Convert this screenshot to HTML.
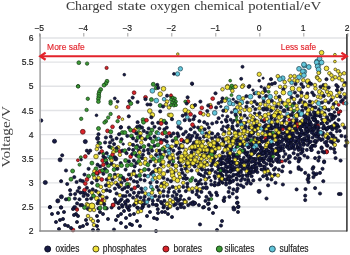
<!DOCTYPE html><html><head><meta charset="utf-8"><style>html,body{margin:0;padding:0;background:#fff}svg{display:block}.n{fill:#181b44;stroke:#090b20;stroke-width:0.7}.y{fill:#f0e23a;stroke:#3d3812;stroke-width:0.7}.c{fill:#62c6da;stroke:#234552;stroke-width:0.7}.g{fill:#3c9a35;stroke:#123a12;stroke-width:0.7}.r{fill:#d9232b;stroke:#4a0b0b;stroke-width:0.7}</style></head><body><svg width="350" height="255" viewBox="0 0 350 255">
<rect width="350" height="255" fill="#fff"/>
<line x1="40.1" y1="38.00" x2="347.1" y2="38.00" stroke="#e2e3e6" stroke-width="1.4"/>
<line x1="40.1" y1="62.15" x2="347.1" y2="62.15" stroke="#e2e3e6" stroke-width="1.4"/>
<line x1="40.1" y1="86.30" x2="347.1" y2="86.30" stroke="#e2e3e6" stroke-width="1.4"/>
<line x1="40.1" y1="110.45" x2="347.1" y2="110.45" stroke="#e2e3e6" stroke-width="1.4"/>
<line x1="40.1" y1="134.60" x2="347.1" y2="134.60" stroke="#e2e3e6" stroke-width="1.4"/>
<line x1="40.1" y1="158.75" x2="347.1" y2="158.75" stroke="#e2e3e6" stroke-width="1.4"/>
<line x1="40.1" y1="182.90" x2="347.1" y2="182.90" stroke="#e2e3e6" stroke-width="1.4"/>
<line x1="40.1" y1="207.05" x2="347.1" y2="207.05" stroke="#e2e3e6" stroke-width="1.4"/>
<circle class="n" cx="288.9" cy="126.5" r="1.29"/>
<circle class="n" cx="303.0" cy="124.2" r="1.29"/>
<circle class="n" cx="298.0" cy="133.0" r="1.29"/>
<circle class="n" cx="277.5" cy="137.2" r="1.29"/>
<circle class="n" cx="276.6" cy="135.0" r="1.29"/>
<circle class="n" cx="278.0" cy="124.7" r="1.29"/>
<circle class="n" cx="293.3" cy="146.8" r="1.29"/>
<circle class="n" cx="280.3" cy="128.7" r="1.29"/>
<circle class="n" cx="302.0" cy="150.4" r="1.29"/>
<circle class="n" cx="299.8" cy="133.9" r="1.29"/>
<circle class="n" cx="317.0" cy="123.4" r="1.29"/>
<circle class="n" cx="311.9" cy="130.7" r="1.29"/>
<circle class="n" cx="281.2" cy="125.5" r="1.29"/>
<circle class="n" cx="288.3" cy="146.5" r="1.29"/>
<circle class="n" cx="282.8" cy="139.4" r="1.29"/>
<circle class="n" cx="302.5" cy="133.2" r="1.29"/>
<circle class="n" cx="298.6" cy="123.9" r="1.29"/>
<circle class="n" cx="277.6" cy="128.2" r="1.29"/>
<circle class="n" cx="304.3" cy="134.8" r="1.29"/>
<circle class="n" cx="288.5" cy="139.6" r="1.29"/>
<circle class="n" cx="294.5" cy="131.0" r="1.29"/>
<circle class="n" cx="309.2" cy="143.0" r="1.29"/>
<circle class="n" cx="285.5" cy="139.2" r="1.29"/>
<circle class="n" cx="297.6" cy="148.3" r="1.29"/>
<circle class="n" cx="306.4" cy="130.6" r="1.29"/>
<circle class="n" cx="317.1" cy="125.5" r="1.29"/>
<circle class="n" cx="293.0" cy="144.7" r="1.29"/>
<circle class="n" cx="281.5" cy="136.7" r="1.29"/>
<circle class="n" cx="276.7" cy="142.0" r="1.29"/>
<circle class="n" cx="307.9" cy="139.2" r="1.29"/>
<circle class="n" cx="312.6" cy="131.4" r="1.29"/>
<circle class="n" cx="304.9" cy="139.8" r="1.29"/>
<circle class="n" cx="299.9" cy="135.7" r="1.29"/>
<circle class="n" cx="311.1" cy="150.3" r="1.29"/>
<circle class="n" cx="295.4" cy="141.9" r="1.29"/>
<circle class="n" cx="277.6" cy="143.0" r="1.29"/>
<circle class="n" cx="302.8" cy="151.8" r="1.29"/>
<circle class="n" cx="310.3" cy="130.5" r="1.29"/>
<circle class="n" cx="291.6" cy="142.1" r="1.29"/>
<circle class="n" cx="276.0" cy="135.9" r="1.29"/>
<circle class="n" cx="282.2" cy="125.5" r="1.29"/>
<circle class="n" cx="277.5" cy="145.0" r="1.29"/>
<circle class="n" cx="280.6" cy="129.4" r="1.29"/>
<circle class="n" cx="291.8" cy="148.1" r="1.29"/>
<circle class="n" cx="278.5" cy="135.5" r="1.29"/>
<circle class="n" cx="298.6" cy="148.5" r="1.29"/>
<circle class="n" cx="310.2" cy="147.9" r="1.29"/>
<circle class="n" cx="287.0" cy="134.5" r="1.29"/>
<circle class="n" cx="290.4" cy="148.5" r="1.29"/>
<circle class="n" cx="316.2" cy="126.5" r="1.29"/>
<circle class="n" cx="282.6" cy="129.0" r="1.29"/>
<circle class="n" cx="285.0" cy="136.5" r="1.29"/>
<circle class="n" cx="300.3" cy="129.9" r="1.29"/>
<circle class="n" cx="275.2" cy="134.6" r="1.29"/>
<circle class="n" cx="290.9" cy="139.0" r="1.29"/>
<circle class="n" cx="316.0" cy="142.7" r="1.29"/>
<circle class="n" cx="297.2" cy="140.5" r="1.29"/>
<circle class="n" cx="304.1" cy="123.6" r="1.29"/>
<circle class="n" cx="313.7" cy="145.4" r="1.29"/>
<circle class="n" cx="312.6" cy="145.9" r="1.29"/>
<circle class="n" cx="291.9" cy="134.0" r="1.29"/>
<circle class="n" cx="279.5" cy="141.0" r="1.29"/>
<circle class="n" cx="277.7" cy="124.0" r="1.29"/>
<circle class="n" cx="284.0" cy="126.9" r="1.29"/>
<circle class="n" cx="289.6" cy="123.6" r="1.29"/>
<circle class="n" cx="275.0" cy="126.5" r="1.29"/>
<circle class="n" cx="279.4" cy="132.9" r="1.29"/>
<circle class="n" cx="276.1" cy="148.2" r="1.29"/>
<circle class="n" cx="301.4" cy="126.5" r="1.29"/>
<circle class="n" cx="285.8" cy="132.4" r="1.29"/>
<circle class="n" cx="268.6" cy="131.9" r="1.29"/>
<circle class="n" cx="277.3" cy="159.8" r="1.29"/>
<circle class="n" cx="270.4" cy="143.5" r="1.29"/>
<circle class="n" cx="263.5" cy="131.3" r="1.29"/>
<circle class="n" cx="268.2" cy="136.5" r="1.29"/>
<circle class="n" cx="276.9" cy="133.2" r="1.29"/>
<circle class="n" cx="262.4" cy="158.4" r="1.29"/>
<circle class="n" cx="271.5" cy="132.7" r="1.29"/>
<circle class="n" cx="271.8" cy="128.9" r="1.29"/>
<circle class="n" cx="271.5" cy="159.3" r="1.29"/>
<circle class="n" cx="277.5" cy="150.3" r="1.29"/>
<circle class="n" cx="266.7" cy="139.7" r="1.29"/>
<circle class="n" cx="265.0" cy="152.7" r="1.29"/>
<circle class="n" cx="271.6" cy="152.9" r="1.29"/>
<circle class="n" cx="267.9" cy="135.1" r="1.29"/>
<circle class="n" cx="276.6" cy="159.5" r="1.29"/>
<circle class="n" cx="277.3" cy="153.8" r="1.29"/>
<circle class="n" cx="276.7" cy="151.7" r="1.29"/>
<circle class="n" cx="266.1" cy="144.6" r="1.29"/>
<circle class="n" cx="268.4" cy="128.9" r="1.29"/>
<circle class="n" cx="262.5" cy="136.9" r="1.29"/>
<circle class="n" cx="266.7" cy="150.2" r="1.29"/>
<circle class="n" cx="260.5" cy="141.2" r="1.29"/>
<circle class="n" cx="259.9" cy="164.5" r="1.29"/>
<circle class="n" cx="260.5" cy="137.7" r="1.29"/>
<circle class="n" cx="235.5" cy="131.8" r="1.29"/>
<circle class="n" cx="234.7" cy="130.8" r="1.29"/>
<circle class="n" cx="249.2" cy="160.7" r="1.29"/>
<circle class="n" cx="256.6" cy="142.6" r="1.29"/>
<circle class="n" cx="250.2" cy="156.4" r="1.29"/>
<circle class="n" cx="230.9" cy="150.4" r="1.29"/>
<circle class="n" cx="258.9" cy="155.6" r="1.29"/>
<circle class="n" cx="253.5" cy="142.6" r="1.29"/>
<circle class="n" cx="234.1" cy="155.9" r="1.29"/>
<circle class="n" cx="239.3" cy="156.4" r="1.29"/>
<circle class="n" cx="261.0" cy="139.0" r="1.29"/>
<circle class="n" cx="241.6" cy="162.7" r="1.29"/>
<circle class="n" cx="252.6" cy="129.3" r="1.29"/>
<circle class="n" cx="232.3" cy="128.5" r="1.29"/>
<circle class="n" cx="258.8" cy="156.7" r="1.29"/>
<circle class="n" cx="233.0" cy="157.5" r="1.29"/>
<circle class="n" cx="261.3" cy="150.3" r="1.29"/>
<circle class="n" cx="239.9" cy="145.6" r="1.29"/>
<circle class="n" cx="232.5" cy="122.6" r="1.29"/>
<circle class="n" cx="261.0" cy="149.9" r="1.29"/>
<circle class="n" cx="245.9" cy="162.1" r="1.29"/>
<circle class="n" cx="242.7" cy="159.5" r="1.29"/>
<circle class="n" cx="256.1" cy="131.1" r="1.29"/>
<circle class="n" cx="236.6" cy="134.6" r="1.29"/>
<circle class="n" cx="236.2" cy="147.2" r="1.29"/>
<circle class="n" cx="236.8" cy="140.0" r="1.29"/>
<circle class="n" cx="232.5" cy="161.1" r="1.29"/>
<circle class="n" cx="240.0" cy="141.7" r="1.29"/>
<circle class="n" cx="247.8" cy="160.9" r="1.29"/>
<circle class="n" cx="242.3" cy="161.5" r="1.29"/>
<circle class="n" cx="245.1" cy="144.9" r="1.29"/>
<circle class="n" cx="245.8" cy="122.8" r="1.29"/>
<circle class="n" cx="243.0" cy="129.9" r="1.29"/>
<circle class="n" cx="228.1" cy="156.4" r="1.29"/>
<circle class="n" cx="233.9" cy="142.4" r="1.29"/>
<circle class="n" cx="252.7" cy="145.9" r="1.29"/>
<circle class="n" cx="239.1" cy="144.3" r="1.29"/>
<circle class="n" cx="246.9" cy="155.7" r="1.29"/>
<circle class="n" cx="231.6" cy="146.1" r="1.29"/>
<circle class="n" cx="236.4" cy="133.9" r="1.29"/>
<circle class="n" cx="254.3" cy="143.8" r="1.29"/>
<circle class="n" cx="247.1" cy="154.7" r="1.29"/>
<circle class="n" cx="259.0" cy="141.1" r="1.29"/>
<circle class="n" cx="248.8" cy="143.7" r="1.29"/>
<circle class="n" cx="245.4" cy="151.8" r="1.29"/>
<circle class="n" cx="243.4" cy="144.9" r="1.29"/>
<circle class="n" cx="244.3" cy="162.5" r="1.29"/>
<circle class="n" cx="218.0" cy="161.7" r="1.29"/>
<circle class="n" cx="227.7" cy="145.0" r="1.29"/>
<circle class="n" cx="212.4" cy="163.5" r="1.29"/>
<circle class="n" cx="223.6" cy="141.7" r="1.29"/>
<circle class="n" cx="194.9" cy="149.9" r="1.29"/>
<circle class="n" cx="192.9" cy="144.5" r="1.29"/>
<circle class="n" cx="192.9" cy="156.1" r="1.29"/>
<circle class="n" cx="221.4" cy="162.2" r="1.29"/>
<circle class="n" cx="196.2" cy="157.3" r="1.29"/>
<circle class="n" cx="216.4" cy="141.9" r="1.29"/>
<circle class="n" cx="225.3" cy="164.1" r="1.29"/>
<circle class="n" cx="198.8" cy="163.7" r="1.29"/>
<circle class="n" cx="205.9" cy="151.2" r="1.29"/>
<circle class="n" cx="229.6" cy="160.5" r="1.29"/>
<circle class="n" cx="196.5" cy="149.7" r="1.29"/>
<circle class="n" cx="210.6" cy="147.2" r="1.29"/>
<circle class="n" cx="197.8" cy="146.6" r="1.29"/>
<circle class="n" cx="218.9" cy="138.5" r="1.29"/>
<circle class="n" cx="212.2" cy="149.9" r="1.29"/>
<circle class="n" cx="190.7" cy="147.0" r="1.29"/>
<circle class="n" cx="215.0" cy="151.8" r="1.29"/>
<circle class="n" cx="192.6" cy="164.6" r="1.29"/>
<circle class="n" cx="221.5" cy="164.2" r="1.29"/>
<circle class="n" cx="194.2" cy="145.2" r="1.29"/>
<circle class="n" cx="191.6" cy="159.0" r="1.29"/>
<circle class="n" cx="200.8" cy="141.5" r="1.29"/>
<circle class="n" cx="206.9" cy="162.6" r="1.29"/>
<circle class="n" cx="222.8" cy="145.0" r="1.29"/>
<circle class="n" cx="196.0" cy="162.8" r="1.29"/>
<circle class="n" cx="212.8" cy="156.9" r="1.29"/>
<circle class="n" cx="221.9" cy="156.4" r="1.29"/>
<circle class="n" cx="248.3" cy="165.6" r="1.29"/>
<circle class="n" cx="221.2" cy="178.5" r="1.29"/>
<circle class="n" cx="245.9" cy="175.0" r="1.29"/>
<circle class="n" cx="221.7" cy="176.4" r="1.29"/>
<circle class="n" cx="220.9" cy="176.6" r="1.29"/>
<circle class="n" cx="238.0" cy="163.5" r="1.29"/>
<circle class="n" cx="242.3" cy="178.2" r="1.29"/>
<circle class="n" cx="229.8" cy="158.2" r="1.29"/>
<circle class="n" cx="241.2" cy="161.0" r="1.29"/>
<circle class="n" cx="222.8" cy="159.0" r="1.29"/>
<circle class="n" cx="220.2" cy="160.0" r="1.29"/>
<circle class="n" cx="231.7" cy="162.6" r="1.29"/>
<circle class="n" cx="251.4" cy="162.2" r="1.29"/>
<circle class="n" cx="240.0" cy="159.4" r="1.29"/>
<circle class="n" cx="233.3" cy="155.5" r="1.29"/>
<circle class="n" cx="229.0" cy="155.4" r="1.29"/>
<circle class="n" cx="250.3" cy="168.8" r="1.29"/>
<circle class="n" cx="226.3" cy="166.9" r="1.29"/>
<circle class="n" cx="259.1" cy="157.7" r="1.29"/>
<circle class="n" cx="254.0" cy="165.8" r="1.29"/>
<circle class="n" cx="239.8" cy="175.9" r="1.29"/>
<circle class="n" cx="235.3" cy="167.7" r="1.29"/>
<circle class="n" cx="248.3" cy="179.6" r="1.29"/>
<circle class="n" cx="233.1" cy="175.8" r="1.29"/>
<circle class="n" cx="249.1" cy="170.9" r="1.29"/>
<circle class="n" cx="235.8" cy="163.7" r="1.29"/>
<circle class="n" cx="220.4" cy="158.2" r="1.29"/>
<circle class="n" cx="221.1" cy="173.5" r="1.29"/>
<circle class="n" cx="229.2" cy="159.1" r="1.29"/>
<circle class="n" cx="185.9" cy="178.7" r="1.29"/>
<circle class="n" cx="240.9" cy="170.8" r="1.29"/>
<circle class="n" cx="199.7" cy="151.1" r="1.29"/>
<circle class="n" cx="200.5" cy="161.1" r="1.29"/>
<circle class="n" cx="191.0" cy="160.5" r="1.29"/>
<circle class="n" cx="198.4" cy="184.2" r="1.29"/>
<circle class="n" cx="248.1" cy="165.2" r="1.29"/>
<circle class="n" cx="197.1" cy="184.4" r="1.29"/>
<circle class="n" cx="201.7" cy="156.4" r="1.29"/>
<circle class="n" cx="180.1" cy="157.6" r="1.29"/>
<circle class="n" cx="213.2" cy="163.1" r="1.29"/>
<circle class="n" cx="194.1" cy="163.2" r="1.29"/>
<circle class="n" cx="180.3" cy="152.2" r="1.29"/>
<circle class="n" cx="186.3" cy="158.4" r="1.29"/>
<circle class="n" cx="182.9" cy="141.0" r="1.29"/>
<circle class="n" cx="201.3" cy="150.7" r="1.29"/>
<circle class="n" cx="221.0" cy="164.3" r="1.29"/>
<circle class="n" cx="232.5" cy="170.2" r="1.29"/>
<circle class="n" cx="230.1" cy="180.4" r="1.29"/>
<circle class="n" cx="207.3" cy="155.0" r="1.29"/>
<circle class="n" cx="248.9" cy="146.9" r="1.29"/>
<circle class="n" cx="230.7" cy="169.6" r="1.29"/>
<circle class="n" cx="183.1" cy="178.4" r="1.29"/>
<circle class="n" cx="242.4" cy="168.9" r="1.29"/>
<circle class="n" cx="231.4" cy="177.4" r="1.29"/>
<circle class="n" cx="189.8" cy="164.1" r="1.29"/>
<circle class="n" cx="215.3" cy="178.4" r="1.29"/>
<circle class="n" cx="236.3" cy="178.0" r="1.29"/>
<circle class="n" cx="220.9" cy="181.1" r="1.29"/>
<circle class="n" cx="227.8" cy="171.9" r="1.29"/>
<circle class="n" cx="196.1" cy="141.4" r="1.29"/>
<circle class="n" cx="189.3" cy="156.6" r="1.29"/>
<circle class="n" cx="187.3" cy="178.4" r="1.29"/>
<circle class="n" cx="219.1" cy="168.9" r="1.29"/>
<circle class="n" cx="223.8" cy="171.3" r="1.29"/>
<circle class="n" cx="308.7" cy="105.1" r="1.29"/>
<circle class="n" cx="316.7" cy="132.7" r="1.29"/>
<circle class="n" cx="309.1" cy="124.8" r="1.29"/>
<circle class="n" cx="313.1" cy="107.4" r="1.29"/>
<circle class="n" cx="315.2" cy="114.3" r="1.29"/>
<circle class="n" cx="297.9" cy="114.8" r="1.29"/>
<circle class="n" cx="315.0" cy="112.6" r="1.29"/>
<circle class="n" cx="315.2" cy="141.1" r="1.29"/>
<circle class="n" cx="308.8" cy="119.2" r="1.29"/>
<circle class="n" cx="308.5" cy="130.3" r="1.29"/>
<circle class="n" cx="315.9" cy="127.8" r="1.29"/>
<circle class="n" cx="312.7" cy="107.9" r="1.29"/>
<circle class="n" cx="299.8" cy="114.4" r="1.29"/>
<circle class="n" cx="315.3" cy="116.3" r="1.29"/>
<circle class="n" cx="310.8" cy="105.5" r="1.29"/>
<circle class="n" cx="297.6" cy="114.9" r="1.29"/>
<circle class="n" cx="313.5" cy="130.6" r="1.29"/>
<circle class="n" cx="313.6" cy="115.8" r="1.29"/>
<circle class="n" cx="309.4" cy="122.2" r="1.29"/>
<circle class="n" cx="308.1" cy="109.4" r="1.29"/>
<circle class="n" cx="319.2" cy="112.4" r="1.29"/>
<circle class="n" cx="321.4" cy="139.6" r="1.29"/>
<circle class="n" cx="296.5" cy="122.0" r="1.29"/>
<circle class="n" cx="317.3" cy="140.8" r="1.29"/>
<circle class="n" cx="275.2" cy="115.4" r="1.29"/>
<circle class="n" cx="264.4" cy="128.9" r="1.29"/>
<circle class="n" cx="264.5" cy="121.6" r="1.29"/>
<circle class="n" cx="261.4" cy="120.5" r="1.29"/>
<circle class="n" cx="297.9" cy="112.7" r="1.29"/>
<circle class="n" cx="291.9" cy="120.2" r="1.29"/>
<circle class="n" cx="294.9" cy="124.1" r="1.29"/>
<circle class="n" cx="265.4" cy="128.0" r="1.29"/>
<circle class="n" cx="276.9" cy="110.5" r="1.29"/>
<circle class="n" cx="255.2" cy="119.8" r="1.29"/>
<circle class="n" cx="275.3" cy="116.0" r="1.29"/>
<circle class="n" cx="261.3" cy="116.9" r="1.29"/>
<circle class="n" cx="269.2" cy="126.8" r="1.29"/>
<circle class="n" cx="255.1" cy="125.0" r="1.29"/>
<circle class="n" cx="292.8" cy="112.4" r="1.29"/>
<circle class="n" cx="296.7" cy="124.3" r="1.29"/>
<circle class="n" cx="295.6" cy="115.8" r="1.29"/>
<circle class="n" cx="271.7" cy="117.9" r="1.29"/>
<circle class="n" cx="299.9" cy="121.8" r="1.29"/>
<circle class="n" cx="271.2" cy="118.6" r="1.29"/>
<circle class="n" cx="251.0" cy="151.1" r="1.29"/>
<circle class="n" cx="244.1" cy="168.4" r="1.29"/>
<circle class="n" cx="251.4" cy="170.6" r="1.29"/>
<circle class="n" cx="250.0" cy="155.8" r="1.29"/>
<circle class="n" cx="260.4" cy="154.2" r="1.29"/>
<circle class="n" cx="254.9" cy="171.0" r="1.29"/>
<circle class="n" cx="275.4" cy="167.9" r="1.29"/>
<circle class="n" cx="265.2" cy="170.1" r="1.29"/>
<circle class="n" cx="277.6" cy="162.1" r="1.29"/>
<circle class="n" cx="268.8" cy="151.1" r="1.29"/>
<circle class="n" cx="269.3" cy="159.9" r="1.29"/>
<circle class="n" cx="270.1" cy="164.2" r="1.29"/>
<circle class="n" cx="251.4" cy="151.1" r="1.29"/>
<circle class="n" cx="277.1" cy="152.8" r="1.29"/>
<circle class="n" cx="258.9" cy="157.6" r="1.29"/>
<circle class="n" cx="251.9" cy="166.3" r="1.29"/>
<circle class="n" cx="279.1" cy="155.7" r="1.29"/>
<circle class="n" cx="266.2" cy="156.6" r="1.29"/>
<circle class="n" cx="262.3" cy="158.7" r="1.29"/>
<circle class="n" cx="246.7" cy="153.6" r="1.29"/>
<circle class="n" cx="248.3" cy="169.9" r="1.29"/>
<circle class="n" cx="259.9" cy="154.8" r="1.29"/>
<circle class="n" cx="305.0" cy="139.8" r="1.29"/>
<circle class="n" cx="257.9" cy="149.0" r="1.29"/>
<circle class="n" cx="252.8" cy="133.7" r="1.29"/>
<circle class="n" cx="335.5" cy="116.3" r="1.29"/>
<circle class="n" cx="270.5" cy="157.6" r="1.29"/>
<circle class="n" cx="320.8" cy="123.7" r="1.29"/>
<circle class="n" cx="256.0" cy="142.6" r="1.29"/>
<circle class="n" cx="322.2" cy="107.8" r="1.29"/>
<circle class="n" cx="204.5" cy="164.2" r="1.29"/>
<circle class="n" cx="336.1" cy="126.4" r="1.29"/>
<circle class="n" cx="273.1" cy="161.9" r="1.29"/>
<circle class="n" cx="264.0" cy="151.2" r="1.29"/>
<circle class="n" cx="205.5" cy="170.1" r="1.29"/>
<circle class="n" cx="290.4" cy="130.9" r="1.29"/>
<circle class="n" cx="273.4" cy="153.8" r="1.29"/>
<circle class="n" cx="242.2" cy="143.8" r="1.29"/>
<circle class="n" cx="269.8" cy="161.3" r="1.29"/>
<circle class="n" cx="258.8" cy="127.1" r="1.29"/>
<circle class="n" cx="247.3" cy="140.5" r="1.29"/>
<circle class="n" cx="295.6" cy="122.2" r="1.29"/>
<circle class="n" cx="270.7" cy="122.8" r="1.29"/>
<circle class="n" cx="314.8" cy="124.9" r="1.29"/>
<circle class="n" cx="231.0" cy="168.4" r="1.29"/>
<circle class="n" cx="269.4" cy="121.4" r="1.29"/>
<circle class="n" cx="231.3" cy="140.2" r="1.29"/>
<circle class="n" cx="226.0" cy="182.7" r="1.29"/>
<circle class="n" cx="293.0" cy="137.0" r="1.29"/>
<circle class="n" cx="252.3" cy="133.2" r="1.29"/>
<circle class="n" cx="239.2" cy="134.8" r="1.29"/>
<circle class="n" cx="333.8" cy="116.1" r="1.29"/>
<circle class="n" cx="335.0" cy="123.0" r="1.29"/>
<circle class="n" cx="249.9" cy="173.4" r="1.29"/>
<circle class="n" cx="315.1" cy="141.5" r="1.29"/>
<circle class="n" cx="325.6" cy="108.5" r="1.29"/>
<circle class="n" cx="328.8" cy="127.1" r="1.29"/>
<circle class="n" cx="236.7" cy="164.8" r="1.29"/>
<circle class="n" cx="200.5" cy="168.0" r="1.29"/>
<circle class="n" cx="332.1" cy="108.0" r="1.29"/>
<circle class="n" cx="232.7" cy="145.0" r="1.29"/>
<circle class="n" cx="254.1" cy="126.6" r="1.29"/>
<circle class="n" cx="260.2" cy="146.5" r="1.29"/>
<circle class="n" cx="329.9" cy="121.0" r="1.29"/>
<circle class="n" cx="285.0" cy="132.9" r="1.29"/>
<circle class="n" cx="244.7" cy="135.7" r="1.29"/>
<circle class="n" cx="309.5" cy="112.5" r="1.29"/>
<circle class="n" cx="227.6" cy="167.7" r="1.29"/>
<circle class="n" cx="204.7" cy="151.3" r="1.29"/>
<circle class="n" cx="213.5" cy="146.9" r="1.29"/>
<circle class="n" cx="299.4" cy="142.7" r="1.29"/>
<circle class="n" cx="232.8" cy="140.2" r="1.29"/>
<circle class="n" cx="293.0" cy="115.9" r="1.29"/>
<circle class="n" cx="317.7" cy="130.1" r="1.29"/>
<circle class="n" cx="279.4" cy="136.6" r="1.29"/>
<circle class="n" cx="303.3" cy="122.3" r="1.29"/>
<circle class="n" cx="221.5" cy="178.5" r="1.29"/>
<circle class="n" cx="281.0" cy="132.8" r="1.29"/>
<circle class="n" cx="271.0" cy="125.0" r="1.29"/>
<circle class="n" cx="338.7" cy="114.4" r="1.29"/>
<circle class="n" cx="236.4" cy="169.8" r="1.29"/>
<circle class="n" cx="332.4" cy="114.7" r="1.29"/>
<circle class="n" cx="283.5" cy="156.8" r="1.29"/>
<circle class="n" cx="235.7" cy="155.2" r="1.29"/>
<circle class="n" cx="291.2" cy="122.7" r="1.29"/>
<circle class="n" cx="295.0" cy="121.2" r="1.29"/>
<circle class="n" cx="255.3" cy="151.1" r="1.29"/>
<circle class="n" cx="222.9" cy="163.0" r="1.29"/>
<circle class="n" cx="257.4" cy="129.2" r="1.29"/>
<circle class="n" cx="243.7" cy="152.5" r="1.29"/>
<circle class="n" cx="250.0" cy="140.1" r="1.29"/>
<circle class="n" cx="301.9" cy="122.7" r="1.29"/>
<circle class="n" cx="200.8" cy="179.9" r="1.29"/>
<circle class="n" cx="202.1" cy="151.2" r="1.29"/>
<circle class="n" cx="212.5" cy="157.0" r="1.29"/>
<circle class="n" cx="251.9" cy="147.4" r="1.29"/>
<circle class="n" cx="215.2" cy="146.2" r="1.29"/>
<circle class="n" cx="315.4" cy="119.1" r="1.29"/>
<circle class="n" cx="310.0" cy="124.2" r="1.29"/>
<circle class="n" cx="316.1" cy="121.0" r="1.29"/>
<circle class="n" cx="230.5" cy="138.8" r="1.29"/>
<circle class="n" cx="272.5" cy="137.5" r="1.29"/>
<circle class="n" cx="205.8" cy="152.1" r="1.29"/>
<circle class="n" cx="317.3" cy="115.7" r="1.29"/>
<circle class="n" cx="283.9" cy="151.1" r="1.29"/>
<circle class="n" cx="287.8" cy="131.1" r="1.29"/>
<circle class="n" cx="258.8" cy="153.8" r="1.29"/>
<circle class="n" cx="259.6" cy="160.0" r="1.29"/>
<circle class="n" cx="262.6" cy="141.9" r="1.29"/>
<circle class="n" cx="203.3" cy="156.7" r="1.29"/>
<circle class="n" cx="268.5" cy="125.3" r="1.29"/>
<circle class="n" cx="270.5" cy="137.0" r="1.29"/>
<circle class="n" cx="333.1" cy="117.2" r="1.29"/>
<circle class="n" cx="328.2" cy="119.5" r="1.29"/>
<circle class="n" cx="305.9" cy="119.0" r="1.29"/>
<circle class="n" cx="325.5" cy="128.5" r="1.29"/>
<circle class="n" cx="314.2" cy="117.8" r="1.29"/>
<circle class="n" cx="270.8" cy="132.2" r="1.29"/>
<circle class="n" cx="222.6" cy="182.8" r="1.29"/>
<circle class="n" cx="223.6" cy="170.4" r="1.29"/>
<circle class="n" cx="216.1" cy="149.5" r="1.29"/>
<circle class="n" cx="289.1" cy="135.5" r="1.29"/>
<circle class="n" cx="288.2" cy="138.3" r="1.29"/>
<circle class="n" cx="311.7" cy="127.7" r="1.29"/>
<circle class="n" cx="250.4" cy="168.7" r="1.29"/>
<circle class="n" cx="314.8" cy="126.8" r="1.29"/>
<circle class="n" cx="286.2" cy="141.4" r="1.29"/>
<circle class="n" cx="231.4" cy="153.9" r="1.29"/>
<circle class="n" cx="282.5" cy="122.7" r="1.29"/>
<circle class="n" cx="287.4" cy="144.9" r="1.29"/>
<circle class="n" cx="218.9" cy="182.8" r="1.29"/>
<circle class="n" cx="213.4" cy="158.3" r="1.29"/>
<circle class="n" cx="256.3" cy="127.7" r="1.29"/>
<circle class="n" cx="201.6" cy="158.9" r="1.29"/>
<circle class="n" cx="278.7" cy="134.7" r="1.29"/>
<circle class="n" cx="290.4" cy="142.4" r="1.29"/>
<circle class="n" cx="206.2" cy="149.6" r="1.29"/>
<circle class="n" cx="256.8" cy="125.5" r="1.29"/>
<circle class="n" cx="208.2" cy="169.9" r="1.29"/>
<circle class="n" cx="201.7" cy="151.2" r="1.29"/>
<circle class="n" cx="331.7" cy="117.7" r="1.29"/>
<circle class="n" cx="227.9" cy="155.9" r="1.29"/>
<circle class="n" cx="271.0" cy="158.6" r="1.29"/>
<circle class="n" cx="313.9" cy="120.3" r="1.29"/>
<circle class="n" cx="206.8" cy="178.9" r="1.29"/>
<circle class="n" cx="200.9" cy="175.2" r="1.29"/>
<circle class="n" cx="304.3" cy="144.2" r="1.29"/>
<circle class="n" cx="303.8" cy="143.1" r="1.29"/>
<circle class="n" cx="247.0" cy="167.5" r="1.29"/>
<circle class="n" cx="299.6" cy="127.8" r="1.29"/>
<circle class="n" cx="277.5" cy="141.8" r="1.29"/>
<circle class="n" cx="237.1" cy="158.6" r="1.29"/>
<circle class="n" cx="335.1" cy="123.8" r="1.29"/>
<circle class="n" cx="304.5" cy="132.8" r="1.29"/>
<circle class="n" cx="323.2" cy="132.9" r="1.29"/>
<circle class="n" cx="233.5" cy="180.4" r="1.29"/>
<circle class="n" cx="261.2" cy="165.4" r="1.29"/>
<circle class="n" cx="279.8" cy="131.2" r="1.29"/>
<circle class="n" cx="229.7" cy="157.1" r="1.29"/>
<circle class="n" cx="210.9" cy="180.7" r="1.29"/>
<circle class="n" cx="214.9" cy="182.2" r="1.29"/>
<circle class="n" cx="209.2" cy="154.4" r="1.29"/>
<circle class="n" cx="250.9" cy="173.0" r="1.29"/>
<circle class="n" cx="209.2" cy="177.2" r="1.29"/>
<circle class="n" cx="288.4" cy="129.6" r="1.29"/>
<circle class="n" cx="306.0" cy="122.8" r="1.29"/>
<circle class="n" cx="244.7" cy="140.7" r="1.29"/>
<circle class="n" cx="239.6" cy="164.7" r="1.29"/>
<circle class="n" cx="251.5" cy="132.3" r="1.29"/>
<circle class="n" cx="261.1" cy="169.4" r="1.29"/>
<circle class="n" cx="248.5" cy="163.8" r="1.29"/>
<circle class="n" cx="275.3" cy="123.8" r="1.29"/>
<circle class="n" cx="320.7" cy="113.5" r="1.29"/>
<circle class="n" cx="314.8" cy="120.0" r="1.29"/>
<circle class="n" cx="225.8" cy="146.6" r="1.29"/>
<circle class="n" cx="248.6" cy="174.2" r="1.29"/>
<circle class="n" cx="297.9" cy="146.9" r="1.29"/>
<circle class="n" cx="215.4" cy="158.2" r="1.29"/>
<circle class="n" cx="211.3" cy="170.6" r="1.29"/>
<circle class="n" cx="287.9" cy="135.2" r="1.29"/>
<circle class="n" cx="256.2" cy="138.4" r="1.29"/>
<circle class="n" cx="324.7" cy="113.1" r="1.29"/>
<circle class="n" cx="324.4" cy="108.1" r="1.29"/>
<circle class="n" cx="232.7" cy="143.8" r="1.29"/>
<circle class="n" cx="248.8" cy="132.8" r="1.29"/>
<circle class="n" cx="221.7" cy="175.1" r="1.29"/>
<circle class="n" cx="223.7" cy="142.0" r="1.29"/>
<circle class="n" cx="217.6" cy="143.9" r="1.29"/>
<circle class="n" cx="323.9" cy="125.5" r="1.29"/>
<circle class="n" cx="214.3" cy="184.9" r="1.29"/>
<circle class="n" cx="302.7" cy="141.7" r="1.29"/>
<circle class="n" cx="227.5" cy="158.3" r="1.29"/>
<circle class="n" cx="255.9" cy="170.9" r="1.29"/>
<circle class="n" cx="297.1" cy="147.0" r="1.29"/>
<circle class="n" cx="288.5" cy="144.0" r="1.29"/>
<circle class="n" cx="219.9" cy="155.5" r="1.29"/>
<circle class="n" cx="256.7" cy="166.8" r="1.29"/>
<circle class="n" cx="259.0" cy="124.7" r="1.29"/>
<circle class="n" cx="289.8" cy="143.2" r="1.29"/>
<circle class="n" cx="243.8" cy="157.5" r="1.29"/>
<circle class="n" cx="288.1" cy="126.5" r="1.29"/>
<circle class="n" cx="259.3" cy="143.3" r="1.29"/>
<circle class="n" cx="287.0" cy="139.6" r="1.29"/>
<circle class="n" cx="225.6" cy="159.7" r="1.29"/>
<circle class="n" cx="308.9" cy="137.9" r="1.29"/>
<circle class="n" cx="205.3" cy="150.6" r="1.29"/>
<circle class="n" cx="222.5" cy="170.1" r="1.29"/>
<circle class="n" cx="214.2" cy="153.1" r="1.29"/>
<circle class="n" cx="271.7" cy="158.4" r="1.29"/>
<circle class="n" cx="229.4" cy="162.1" r="1.29"/>
<circle class="n" cx="254.9" cy="168.5" r="1.29"/>
<circle class="n" cx="238.4" cy="138.8" r="1.29"/>
<circle class="n" cx="258.9" cy="163.3" r="1.29"/>
<circle class="n" cx="231.4" cy="166.8" r="1.29"/>
<circle class="n" cx="230.6" cy="171.7" r="1.29"/>
<circle class="n" cx="218.1" cy="169.7" r="1.29"/>
<circle class="n" cx="265.7" cy="152.1" r="1.29"/>
<circle class="n" cx="249.4" cy="158.4" r="1.29"/>
<circle class="n" cx="265.5" cy="130.1" r="1.29"/>
<circle class="n" cx="316.7" cy="135.1" r="1.29"/>
<circle class="n" cx="319.1" cy="127.9" r="1.29"/>
<circle class="n" cx="200.4" cy="165.2" r="1.29"/>
<circle class="n" cx="242.3" cy="145.3" r="1.29"/>
<circle class="n" cx="260.0" cy="158.3" r="1.29"/>
<circle class="n" cx="292.3" cy="135.7" r="1.29"/>
<circle class="n" cx="208.0" cy="173.9" r="1.29"/>
<circle class="n" cx="219.7" cy="174.2" r="1.29"/>
<circle class="n" cx="201.6" cy="184.0" r="1.29"/>
<circle class="n" cx="291.8" cy="126.5" r="1.29"/>
<circle class="n" cx="232.7" cy="169.7" r="1.29"/>
<circle class="n" cx="223.5" cy="179.1" r="1.29"/>
<circle class="n" cx="227.6" cy="162.8" r="1.29"/>
<circle class="n" cx="277.7" cy="127.7" r="1.29"/>
<circle class="n" cx="268.8" cy="146.9" r="1.29"/>
<circle class="n" cx="200.9" cy="174.9" r="1.29"/>
<circle class="n" cx="265.5" cy="152.1" r="1.29"/>
<circle class="n" cx="252.5" cy="140.3" r="1.29"/>
<circle class="n" cx="334.5" cy="112.2" r="1.29"/>
<circle class="n" cx="204.0" cy="156.0" r="1.29"/>
<circle class="n" cx="271.5" cy="145.7" r="1.29"/>
<circle class="n" cx="325.7" cy="108.8" r="1.29"/>
<circle class="n" cx="251.3" cy="144.9" r="1.29"/>
<circle class="n" cx="269.1" cy="151.6" r="1.29"/>
<circle class="n" cx="320.8" cy="132.0" r="1.29"/>
<circle class="n" cx="320.9" cy="140.3" r="1.29"/>
<circle class="n" cx="253.3" cy="154.0" r="1.29"/>
<circle class="n" cx="220.1" cy="164.2" r="1.29"/>
<circle class="n" cx="302.2" cy="125.9" r="1.29"/>
<circle class="n" cx="300.4" cy="144.3" r="1.29"/>
<circle class="n" cx="298.9" cy="137.7" r="1.29"/>
<circle class="n" cx="286.9" cy="129.4" r="1.29"/>
<circle class="n" cx="255.8" cy="142.3" r="1.29"/>
<circle class="n" cx="297.5" cy="125.9" r="1.29"/>
<circle class="n" cx="230.6" cy="182.5" r="1.29"/>
<circle class="n" cx="226.3" cy="175.2" r="1.29"/>
<circle class="n" cx="307.1" cy="128.2" r="1.29"/>
<circle class="n" cx="308.9" cy="124.1" r="1.29"/>
<circle class="n" cx="221.4" cy="168.1" r="1.29"/>
<circle class="n" cx="319.6" cy="116.0" r="1.29"/>
<circle class="n" cx="254.8" cy="164.7" r="1.29"/>
<circle class="n" cx="236.2" cy="174.6" r="1.29"/>
<circle class="n" cx="262.0" cy="153.1" r="1.29"/>
<circle class="n" cx="271.2" cy="160.8" r="1.29"/>
<circle class="n" cx="233.5" cy="169.8" r="1.29"/>
<circle class="n" cx="261.5" cy="158.4" r="1.29"/>
<circle class="n" cx="295.6" cy="141.3" r="1.29"/>
<circle class="n" cx="264.4" cy="169.0" r="1.29"/>
<circle class="n" cx="287.6" cy="131.9" r="1.29"/>
<circle class="n" cx="222.8" cy="183.0" r="1.29"/>
<circle class="n" cx="257.5" cy="155.4" r="1.29"/>
<circle class="n" cx="291.9" cy="133.1" r="1.29"/>
<circle class="n" cx="263.2" cy="161.4" r="1.29"/>
<circle class="n" cx="318.4" cy="131.2" r="1.29"/>
<circle class="n" cx="269.1" cy="154.0" r="1.29"/>
<circle class="n" cx="220.4" cy="172.5" r="1.29"/>
<circle class="n" cx="288.2" cy="130.5" r="1.29"/>
<circle class="n" cx="240.7" cy="166.3" r="1.29"/>
<circle class="n" cx="334.3" cy="127.6" r="1.29"/>
<circle class="n" cx="247.6" cy="166.3" r="1.29"/>
<circle class="n" cx="226.2" cy="170.5" r="1.29"/>
<circle class="n" cx="313.8" cy="127.5" r="1.29"/>
<circle class="n" cx="276.0" cy="154.2" r="1.29"/>
<circle class="n" cx="238.1" cy="162.6" r="1.29"/>
<circle class="n" cx="261.4" cy="152.3" r="1.29"/>
<circle class="n" cx="266.5" cy="148.8" r="1.29"/>
<circle class="n" cx="228.6" cy="157.5" r="1.29"/>
<circle class="n" cx="315.8" cy="121.7" r="1.29"/>
<circle class="n" cx="291.4" cy="135.9" r="1.29"/>
<circle class="n" cx="219.3" cy="184.3" r="1.29"/>
<circle class="n" cx="287.6" cy="129.6" r="1.29"/>
<circle class="n" cx="314.7" cy="141.9" r="1.29"/>
<circle class="n" cx="331.5" cy="114.8" r="1.29"/>
<circle class="n" cx="291.6" cy="139.8" r="1.29"/>
<circle class="n" cx="230.3" cy="181.9" r="1.29"/>
<circle class="n" cx="247.9" cy="152.3" r="1.29"/>
<circle class="n" cx="300.7" cy="139.5" r="1.29"/>
<circle class="n" cx="301.6" cy="132.4" r="1.29"/>
<circle class="n" cx="306.8" cy="124.6" r="1.29"/>
<circle class="n" cx="219.6" cy="179.6" r="1.29"/>
<circle class="n" cx="227.4" cy="179.7" r="1.29"/>
<circle class="n" cx="272.9" cy="135.5" r="1.29"/>
<circle class="n" cx="233.5" cy="175.3" r="1.29"/>
<circle class="n" cx="322.5" cy="135.1" r="1.29"/>
<circle class="n" cx="222.3" cy="177.1" r="1.29"/>
<circle class="n" cx="300.5" cy="125.8" r="1.29"/>
<circle class="n" cx="329.7" cy="114.3" r="1.29"/>
<circle class="n" cx="308.0" cy="132.0" r="1.29"/>
<circle class="n" cx="340.3" cy="111.2" r="1.29"/>
<circle class="n" cx="318.3" cy="135.6" r="1.29"/>
<circle class="n" cx="331.7" cy="126.4" r="1.29"/>
<circle class="n" cx="238.1" cy="167.8" r="1.29"/>
<circle class="n" cx="306.1" cy="124.8" r="1.29"/>
<circle class="n" cx="292.9" cy="147.2" r="1.29"/>
<circle class="n" cx="308.8" cy="140.6" r="1.29"/>
<circle class="n" cx="318.8" cy="135.1" r="1.29"/>
<circle class="n" cx="326.6" cy="130.0" r="1.29"/>
<circle class="n" cx="238.8" cy="172.4" r="1.29"/>
<circle class="n" cx="262.5" cy="154.6" r="1.29"/>
<circle class="n" cx="272.1" cy="148.7" r="1.29"/>
<circle class="n" cx="230.5" cy="163.6" r="1.29"/>
<circle class="n" cx="256.1" cy="163.3" r="1.29"/>
<circle class="n" cx="263.8" cy="166.3" r="1.29"/>
<circle class="n" cx="222.8" cy="175.5" r="1.29"/>
<circle class="n" cx="280.7" cy="149.8" r="1.29"/>
<circle class="n" cx="338.8" cy="126.8" r="1.29"/>
<circle class="n" cx="247.1" cy="171.3" r="1.29"/>
<circle class="n" cx="304.5" cy="124.6" r="1.29"/>
<circle class="n" cx="288.8" cy="149.2" r="1.29"/>
<circle class="n" cx="278.2" cy="147.6" r="1.29"/>
<circle class="n" cx="310.6" cy="122.3" r="1.29"/>
<circle class="n" cx="264.8" cy="141.5" r="1.29"/>
<circle class="n" cx="314.4" cy="135.4" r="1.29"/>
<circle class="n" cx="296.0" cy="137.3" r="1.29"/>
<circle class="n" cx="270.4" cy="147.9" r="1.29"/>
<circle class="n" cx="297.1" cy="129.9" r="1.29"/>
<circle class="n" cx="301.8" cy="130.5" r="1.29"/>
<circle class="n" cx="294.5" cy="128.8" r="1.29"/>
<circle class="n" cx="281.6" cy="142.5" r="1.29"/>
<circle class="n" cx="336.7" cy="131.6" r="1.29"/>
<circle class="n" cx="254.1" cy="158.6" r="1.29"/>
<circle class="n" cx="288.0" cy="158.8" r="1.29"/>
<circle class="n" cx="240.8" cy="163.3" r="1.29"/>
<circle class="n" cx="274.0" cy="151.1" r="1.29"/>
<circle class="n" cx="293.4" cy="145.2" r="1.29"/>
<circle class="n" cx="264.0" cy="153.9" r="1.29"/>
<circle class="n" cx="325.3" cy="127.9" r="1.29"/>
<circle class="n" cx="286.3" cy="146.9" r="1.29"/>
<circle class="n" cx="252.8" cy="167.9" r="1.29"/>
<circle class="n" cx="271.3" cy="165.2" r="1.29"/>
<circle class="n" cx="260.1" cy="160.7" r="1.29"/>
<circle class="n" cx="312.2" cy="145.6" r="1.29"/>
<circle class="n" cx="332.1" cy="119.5" r="1.29"/>
<circle class="n" cx="288.2" cy="141.3" r="1.29"/>
<circle class="n" cx="292.7" cy="138.5" r="1.29"/>
<circle class="n" cx="272.9" cy="144.3" r="1.29"/>
<circle class="n" cx="307.6" cy="132.0" r="1.29"/>
<circle class="n" cx="265.0" cy="151.7" r="1.29"/>
<circle class="n" cx="278.9" cy="143.3" r="1.29"/>
<circle class="n" cx="337.7" cy="125.3" r="1.29"/>
<circle class="n" cx="287.3" cy="147.3" r="1.29"/>
<circle class="n" cx="281.2" cy="148.8" r="1.29"/>
<circle class="n" cx="302.7" cy="139.2" r="1.29"/>
<circle class="n" cx="260.8" cy="154.6" r="1.29"/>
<circle class="n" cx="301.6" cy="149.4" r="1.29"/>
<circle class="n" cx="266.3" cy="152.1" r="1.29"/>
<circle class="n" cx="271.3" cy="156.8" r="1.29"/>
<circle class="n" cx="280.5" cy="147.9" r="1.29"/>
<circle class="n" cx="267.7" cy="169.1" r="1.29"/>
<circle class="n" cx="254.3" cy="161.8" r="1.29"/>
<circle class="n" cx="300.5" cy="124.7" r="1.29"/>
<circle class="n" cx="278.7" cy="151.5" r="1.29"/>
<circle class="n" cx="249.1" cy="158.5" r="1.29"/>
<circle class="n" cx="288.5" cy="140.8" r="1.29"/>
<circle class="n" cx="312.2" cy="118.0" r="1.29"/>
<circle class="n" cx="313.6" cy="134.2" r="1.29"/>
<circle class="n" cx="306.6" cy="136.5" r="1.29"/>
<circle class="n" cx="227.7" cy="177.8" r="1.29"/>
<circle class="n" cx="289.5" cy="136.2" r="1.29"/>
<circle class="n" cx="272.6" cy="138.9" r="1.29"/>
<circle class="n" cx="222.0" cy="176.8" r="1.29"/>
<circle class="n" cx="271.3" cy="156.5" r="1.29"/>
<circle class="n" cx="319.4" cy="132.8" r="1.29"/>
<circle class="n" cx="307.0" cy="126.6" r="1.29"/>
<circle class="n" cx="283.3" cy="138.9" r="1.29"/>
<circle class="n" cx="230.8" cy="171.9" r="1.29"/>
<circle class="n" cx="300.0" cy="135.6" r="1.29"/>
<circle class="n" cx="235.0" cy="162.9" r="1.29"/>
<circle class="n" cx="321.9" cy="119.6" r="1.29"/>
<circle class="n" cx="318.0" cy="121.9" r="1.29"/>
<circle class="n" cx="260.2" cy="164.2" r="1.29"/>
<circle class="n" cx="305.4" cy="129.6" r="1.29"/>
<circle class="n" cx="292.9" cy="125.9" r="1.29"/>
<circle class="n" cx="326.7" cy="119.2" r="1.29"/>
<circle class="n" cx="280.7" cy="150.7" r="1.29"/>
<circle class="n" cx="249.6" cy="167.9" r="1.29"/>
<circle class="n" cx="264.3" cy="159.3" r="1.29"/>
<circle class="n" cx="287.7" cy="133.3" r="1.29"/>
<circle class="n" cx="237.7" cy="173.8" r="1.29"/>
<circle class="n" cx="256.1" cy="159.7" r="1.29"/>
<circle class="n" cx="261.3" cy="147.5" r="1.29"/>
<circle class="n" cx="231.1" cy="163.8" r="1.29"/>
<circle class="n" cx="299.9" cy="136.4" r="1.29"/>
<circle class="g" cx="78.8" cy="62.7" r="1.90"/>
<circle class="g" cx="87.1" cy="63.6" r="1.71"/>
<circle class="r" cx="106.6" cy="67.9" r="1.62"/>
<circle class="g" cx="78.1" cy="86.2" r="1.71"/>
<circle class="n" cx="124.3" cy="74.7" r="1.37"/>
<circle class="y" cx="177.8" cy="54.1" r="1.29"/>
<circle class="c" cx="180.4" cy="68.8" r="2.20"/>
<circle class="c" cx="177.5" cy="73.9" r="2.20"/>
<circle class="n" cx="173.9" cy="73.9" r="1.37"/>
<circle class="n" cx="192.2" cy="84.1" r="1.37"/>
<circle class="n" cx="242.5" cy="66.8" r="1.52"/>
<circle class="n" cx="241.2" cy="78.8" r="1.52"/>
<circle class="y" cx="259.2" cy="74.3" r="2.15"/>
<circle class="n" cx="259.2" cy="80.7" r="1.37"/>
<circle class="n" cx="263.1" cy="78.2" r="1.14"/>
<circle class="g" cx="230.2" cy="80.7" r="1.42"/>
<circle class="y" cx="227.5" cy="86.0" r="1.72"/>
<circle class="g" cx="231.8" cy="86.0" r="1.90"/>
<circle class="y" cx="235.3" cy="86.4" r="1.72"/>
<circle class="y" cx="243.0" cy="85.6" r="1.89"/>
<circle class="n" cx="249.4" cy="86.0" r="1.52"/>
<circle class="n" cx="269.0" cy="84.5" r="1.52"/>
<circle class="y" cx="227.4" cy="87.3" r="2.32"/>
<circle class="y" cx="222.5" cy="89.3" r="1.81"/>
<circle class="g" cx="230.7" cy="88.5" r="1.52"/>
<circle class="g" cx="233.2" cy="87.6" r="1.52"/>
<circle class="y" cx="235.6" cy="86.8" r="1.81"/>
<circle class="y" cx="242.2" cy="86.8" r="1.81"/>
<circle class="n" cx="248.8" cy="86.8" r="1.60"/>
<circle class="y" cx="232.4" cy="90.9" r="1.81"/>
<circle class="n" cx="252.9" cy="90.1" r="1.22"/>
<circle class="n" cx="261.2" cy="86.8" r="1.22"/>
<circle class="g" cx="231.5" cy="95.1" r="1.52"/>
<circle class="n" cx="254.6" cy="93.4" r="1.60"/>
<circle class="c" cx="256.6" cy="92.9" r="1.85"/>
<circle class="n" cx="222.5" cy="98.4" r="1.60"/>
<circle class="g" cx="226.6" cy="98.4" r="1.52"/>
<circle class="c" cx="238.9" cy="97.5" r="2.38"/>
<circle class="y" cx="243.1" cy="98.4" r="1.81"/>
<circle class="n" cx="246.4" cy="96.2" r="1.60"/>
<circle class="c" cx="250.5" cy="96.7" r="2.38"/>
<circle class="n" cx="259.5" cy="96.7" r="1.60"/>
<circle class="y" cx="258.7" cy="93.4" r="1.81"/>
<circle class="n" cx="221.6" cy="101.6" r="1.60"/>
<circle class="y" cx="224.9" cy="100.8" r="1.81"/>
<circle class="c" cx="229.1" cy="100.0" r="1.85"/>
<circle class="n" cx="233.2" cy="99.2" r="1.22"/>
<circle class="n" cx="235.6" cy="101.6" r="1.22"/>
<circle class="c" cx="229.9" cy="103.3" r="2.38"/>
<circle class="c" cx="233.2" cy="104.1" r="1.85"/>
<circle class="n" cx="237.3" cy="102.5" r="1.60"/>
<circle class="c" cx="241.4" cy="102.5" r="2.38"/>
<circle class="y" cx="239.8" cy="104.1" r="1.81"/>
<circle class="n" cx="247.2" cy="102.5" r="1.60"/>
<circle class="y" cx="251.3" cy="102.5" r="1.81"/>
<circle class="n" cx="254.6" cy="101.6" r="1.60"/>
<circle class="n" cx="257.1" cy="104.1" r="1.60"/>
<circle class="y" cx="260.4" cy="104.1" r="1.81"/>
<circle class="n" cx="220.8" cy="106.6" r="1.22"/>
<circle class="c" cx="226.6" cy="108.2" r="2.38"/>
<circle class="y" cx="225.8" cy="110.7" r="1.81"/>
<circle class="n" cx="223.3" cy="110.7" r="1.60"/>
<circle class="y" cx="237.3" cy="107.4" r="1.81"/>
<circle class="y" cx="240.6" cy="108.2" r="1.81"/>
<circle class="n" cx="234.8" cy="109.9" r="1.60"/>
<circle class="c" cx="235.6" cy="111.5" r="2.38"/>
<circle class="y" cx="244.7" cy="109.9" r="1.81"/>
<circle class="y" cx="249.6" cy="109.9" r="2.32"/>
<circle class="n" cx="246.4" cy="106.6" r="1.60"/>
<circle class="n" cx="252.9" cy="106.6" r="1.22"/>
<circle class="n" cx="255.4" cy="109.1" r="1.60"/>
<circle class="y" cx="259.5" cy="108.2" r="1.81"/>
<circle class="n" cx="231.5" cy="112.4" r="1.22"/>
<circle class="y" cx="239.8" cy="112.4" r="1.81"/>
<circle class="n" cx="222.5" cy="115.6" r="1.22"/>
<circle class="n" cx="227.4" cy="116.5" r="1.60"/>
<circle class="n" cx="225.8" cy="119.8" r="1.60"/>
<circle class="g" cx="236.5" cy="116.5" r="1.52"/>
<circle class="n" cx="235.6" cy="114.8" r="1.60"/>
<circle class="n" cx="240.6" cy="114.8" r="1.22"/>
<circle class="y" cx="241.4" cy="118.1" r="1.81"/>
<circle class="n" cx="244.7" cy="115.6" r="1.60"/>
<circle class="n" cx="247.2" cy="118.1" r="1.22"/>
<circle class="y" cx="250.5" cy="115.6" r="1.81"/>
<circle class="y" cx="252.9" cy="117.3" r="1.81"/>
<circle class="y" cx="257.1" cy="114.8" r="1.81"/>
<circle class="y" cx="260.4" cy="117.3" r="1.81"/>
<circle class="n" cx="259.5" cy="113.2" r="1.60"/>
<circle class="n" cx="254.6" cy="113.2" r="1.22"/>
<circle class="n" cx="221.6" cy="122.2" r="1.22"/>
<circle class="n" cx="226.6" cy="121.4" r="1.60"/>
<circle class="n" cx="230.7" cy="119.8" r="1.60"/>
<circle class="n" cx="234.0" cy="120.6" r="1.22"/>
<circle class="g" cx="236.5" cy="119.8" r="1.52"/>
<circle class="y" cx="238.1" cy="122.2" r="1.81"/>
<circle class="n" cx="240.6" cy="121.4" r="1.60"/>
<circle class="y" cx="243.9" cy="123.1" r="1.81"/>
<circle class="c" cx="241.4" cy="124.7" r="1.85"/>
<circle class="n" cx="237.3" cy="125.5" r="1.60"/>
<circle class="y" cx="248.8" cy="121.4" r="1.81"/>
<circle class="y" cx="252.1" cy="119.8" r="1.81"/>
<circle class="y" cx="253.8" cy="123.1" r="1.81"/>
<circle class="y" cx="250.5" cy="125.5" r="1.81"/>
<circle class="y" cx="257.1" cy="121.4" r="1.81"/>
<circle class="y" cx="259.5" cy="124.7" r="1.81"/>
<circle class="n" cx="256.2" cy="126.4" r="1.60"/>
<circle class="n" cx="245.5" cy="126.4" r="1.60"/>
<circle class="n" cx="232.4" cy="126.4" r="1.60"/>
<circle class="n" cx="223.3" cy="126.4" r="1.22"/>
<circle class="n" cx="228.2" cy="125.5" r="1.22"/>
<circle class="n" cx="264.5" cy="88.5" r="1.60"/>
<circle class="y" cx="262.8" cy="92.6" r="1.81"/>
<circle class="n" cx="265.3" cy="90.9" r="1.60"/>
<circle class="g" cx="268.6" cy="91.8" r="1.52"/>
<circle class="y" cx="268.6" cy="86.8" r="1.81"/>
<circle class="y" cx="276.0" cy="92.6" r="1.81"/>
<circle class="y" cx="280.1" cy="86.8" r="1.81"/>
<circle class="y" cx="285.1" cy="86.8" r="1.81"/>
<circle class="y" cx="292.5" cy="88.5" r="2.32"/>
<circle class="y" cx="299.1" cy="89.3" r="2.32"/>
<circle class="n" cx="303.2" cy="86.8" r="1.60"/>
<circle class="n" cx="283.4" cy="89.3" r="1.60"/>
<circle class="y" cx="283.4" cy="92.6" r="2.32"/>
<circle class="c" cx="290.0" cy="93.4" r="2.38"/>
<circle class="n" cx="294.9" cy="92.6" r="1.60"/>
<circle class="n" cx="301.5" cy="92.6" r="1.60"/>
<circle class="c" cx="263.6" cy="98.4" r="1.85"/>
<circle class="n" cx="266.1" cy="95.9" r="1.60"/>
<circle class="c" cx="270.2" cy="96.7" r="2.38"/>
<circle class="y" cx="276.0" cy="97.5" r="1.81"/>
<circle class="n" cx="279.3" cy="96.7" r="1.60"/>
<circle class="y" cx="280.1" cy="100.0" r="1.81"/>
<circle class="y" cx="288.4" cy="100.8" r="2.32"/>
<circle class="n" cx="291.6" cy="97.5" r="1.60"/>
<circle class="y" cx="294.1" cy="99.2" r="1.81"/>
<circle class="n" cx="297.4" cy="95.9" r="1.60"/>
<circle class="y" cx="301.5" cy="95.9" r="1.81"/>
<circle class="n" cx="300.7" cy="100.0" r="1.60"/>
<circle class="n" cx="263.6" cy="101.6" r="1.60"/>
<circle class="y" cx="265.3" cy="104.9" r="1.81"/>
<circle class="y" cx="268.6" cy="101.6" r="2.32"/>
<circle class="n" cx="271.9" cy="100.8" r="1.60"/>
<circle class="y" cx="274.4" cy="103.3" r="1.81"/>
<circle class="y" cx="278.5" cy="104.1" r="1.81"/>
<circle class="n" cx="276.8" cy="106.6" r="1.60"/>
<circle class="n" cx="282.6" cy="102.5" r="1.60"/>
<circle class="y" cx="285.1" cy="104.1" r="2.32"/>
<circle class="g" cx="286.7" cy="106.6" r="1.52"/>
<circle class="y" cx="290.0" cy="104.1" r="1.81"/>
<circle class="n" cx="294.1" cy="103.3" r="1.60"/>
<circle class="g" cx="292.5" cy="105.8" r="1.52"/>
<circle class="y" cx="296.6" cy="105.8" r="1.81"/>
<circle class="n" cx="299.1" cy="102.5" r="1.60"/>
<circle class="y" cx="303.2" cy="102.5" r="1.81"/>
<circle class="n" cx="302.4" cy="106.6" r="1.60"/>
<circle class="n" cx="263.6" cy="109.1" r="2.05"/>
<circle class="n" cx="266.9" cy="109.1" r="2.05"/>
<circle class="y" cx="269.4" cy="106.6" r="1.81"/>
<circle class="y" cx="272.7" cy="108.2" r="2.32"/>
<circle class="n" cx="271.1" cy="110.7" r="1.60"/>
<circle class="y" cx="277.6" cy="110.7" r="1.81"/>
<circle class="n" cx="280.9" cy="107.4" r="1.60"/>
<circle class="y" cx="276.0" cy="113.2" r="2.32"/>
<circle class="y" cx="280.1" cy="112.4" r="1.81"/>
<circle class="n" cx="284.2" cy="110.7" r="2.05"/>
<circle class="c" cx="287.5" cy="114.0" r="1.85"/>
<circle class="n" cx="288.4" cy="109.1" r="1.60"/>
<circle class="y" cx="290.8" cy="109.1" r="1.81"/>
<circle class="g" cx="294.1" cy="110.7" r="1.52"/>
<circle class="y" cx="297.4" cy="109.1" r="1.81"/>
<circle class="c" cx="299.9" cy="111.5" r="1.85"/>
<circle class="n" cx="302.4" cy="110.7" r="1.60"/>
<circle class="y" cx="265.3" cy="115.6" r="2.32"/>
<circle class="y" cx="268.6" cy="114.0" r="1.81"/>
<circle class="n" cx="271.9" cy="116.5" r="2.05"/>
<circle class="y" cx="274.4" cy="115.6" r="2.32"/>
<circle class="n" cx="278.5" cy="114.8" r="1.60"/>
<circle class="y" cx="279.3" cy="117.3" r="2.32"/>
<circle class="y" cx="281.8" cy="116.5" r="1.81"/>
<circle class="n" cx="285.1" cy="117.3" r="1.60"/>
<circle class="y" cx="288.4" cy="116.5" r="1.81"/>
<circle class="n" cx="290.8" cy="114.8" r="1.60"/>
<circle class="c" cx="294.9" cy="116.5" r="1.85"/>
<circle class="y" cx="296.6" cy="115.6" r="2.32"/>
<circle class="n" cx="299.9" cy="114.8" r="1.60"/>
<circle class="c" cx="301.5" cy="114.0" r="2.38"/>
<circle class="n" cx="263.6" cy="121.4" r="1.60"/>
<circle class="r" cx="264.5" cy="119.8" r="1.44"/>
<circle class="y" cx="266.9" cy="118.9" r="1.81"/>
<circle class="c" cx="269.4" cy="121.4" r="1.85"/>
<circle class="y" cx="271.9" cy="122.2" r="1.81"/>
<circle class="n" cx="266.1" cy="125.5" r="2.05"/>
<circle class="y" cx="268.6" cy="126.4" r="1.81"/>
<circle class="n" cx="275.2" cy="119.8" r="1.60"/>
<circle class="y" cx="277.6" cy="121.4" r="1.81"/>
<circle class="n" cx="276.8" cy="126.4" r="2.05"/>
<circle class="y" cx="281.8" cy="123.1" r="1.81"/>
<circle class="n" cx="284.2" cy="120.6" r="1.60"/>
<circle class="r" cx="289.2" cy="119.8" r="1.44"/>
<circle class="y" cx="286.7" cy="123.1" r="1.81"/>
<circle class="n" cx="290.0" cy="124.7" r="1.60"/>
<circle class="y" cx="293.3" cy="120.6" r="1.81"/>
<circle class="n" cx="296.6" cy="119.8" r="1.60"/>
<circle class="r" cx="297.4" cy="123.9" r="1.44"/>
<circle class="y" cx="299.9" cy="123.9" r="1.81"/>
<circle class="y" cx="302.4" cy="120.6" r="1.81"/>
<circle class="n" cx="301.5" cy="126.4" r="1.60"/>
<circle class="y" cx="294.9" cy="126.4" r="1.81"/>
<circle class="n" cx="281.8" cy="127.2" r="2.05"/>
<circle class="n" cx="271.9" cy="127.2" r="1.60"/>
<circle class="y" cx="315.5" cy="88.5" r="1.81"/>
<circle class="y" cx="323.0" cy="87.6" r="1.81"/>
<circle class="y" cx="325.4" cy="88.5" r="1.81"/>
<circle class="n" cx="320.5" cy="86.8" r="1.60"/>
<circle class="n" cx="328.7" cy="87.6" r="1.60"/>
<circle class="n" cx="337.8" cy="86.8" r="1.60"/>
<circle class="n" cx="341.9" cy="89.3" r="1.60"/>
<circle class="y" cx="319.7" cy="91.8" r="2.32"/>
<circle class="y" cx="322.1" cy="93.4" r="1.81"/>
<circle class="y" cx="327.1" cy="91.8" r="1.81"/>
<circle class="y" cx="330.4" cy="93.4" r="2.32"/>
<circle class="y" cx="339.4" cy="92.6" r="1.81"/>
<circle class="n" cx="337.0" cy="90.1" r="1.60"/>
<circle class="n" cx="307.3" cy="93.4" r="1.60"/>
<circle class="n" cx="312.2" cy="92.6" r="1.60"/>
<circle class="y" cx="306.5" cy="96.7" r="2.32"/>
<circle class="n" cx="313.9" cy="95.1" r="1.60"/>
<circle class="y" cx="318.0" cy="96.7" r="1.81"/>
<circle class="y" cx="320.5" cy="97.5" r="1.81"/>
<circle class="n" cx="323.8" cy="95.9" r="1.60"/>
<circle class="y" cx="328.7" cy="95.1" r="1.81"/>
<circle class="y" cx="332.8" cy="97.5" r="1.81"/>
<circle class="n" cx="331.2" cy="100.0" r="1.60"/>
<circle class="y" cx="337.0" cy="95.9" r="1.81"/>
<circle class="n" cx="340.3" cy="96.7" r="1.60"/>
<circle class="y" cx="344.4" cy="94.2" r="1.81"/>
<circle class="n" cx="345.2" cy="97.5" r="1.60"/>
<circle class="n" cx="342.7" cy="100.0" r="1.60"/>
<circle class="n" cx="304.8" cy="102.5" r="1.60"/>
<circle class="y" cx="305.6" cy="104.9" r="2.32"/>
<circle class="y" cx="312.2" cy="102.5" r="1.81"/>
<circle class="n" cx="309.8" cy="101.6" r="1.60"/>
<circle class="y" cx="316.4" cy="101.6" r="1.81"/>
<circle class="c" cx="318.8" cy="103.3" r="2.38"/>
<circle class="n" cx="322.1" cy="102.5" r="1.60"/>
<circle class="y" cx="325.4" cy="100.8" r="1.81"/>
<circle class="n" cx="328.7" cy="102.5" r="1.60"/>
<circle class="y" cx="336.1" cy="102.5" r="1.81"/>
<circle class="r" cx="338.6" cy="104.9" r="1.44"/>
<circle class="n" cx="341.1" cy="101.6" r="1.60"/>
<circle class="r" cx="343.6" cy="103.3" r="1.44"/>
<circle class="c" cx="346.0" cy="103.3" r="1.85"/>
<circle class="n" cx="333.7" cy="104.1" r="1.60"/>
<circle class="y" cx="308.1" cy="109.9" r="2.32"/>
<circle class="n" cx="305.6" cy="108.2" r="1.60"/>
<circle class="y" cx="312.2" cy="109.1" r="1.81"/>
<circle class="n" cx="315.5" cy="107.4" r="1.60"/>
<circle class="c" cx="320.5" cy="108.2" r="1.85"/>
<circle class="y" cx="324.6" cy="107.4" r="1.81"/>
<circle class="n" cx="318.8" cy="109.9" r="1.60"/>
<circle class="y" cx="332.8" cy="107.4" r="1.81"/>
<circle class="n" cx="328.7" cy="109.9" r="1.60"/>
<circle class="n" cx="337.0" cy="109.1" r="1.60"/>
<circle class="r" cx="340.3" cy="111.5" r="1.44"/>
<circle class="r" cx="338.6" cy="112.4" r="1.44"/>
<circle class="y" cx="318.0" cy="112.4" r="1.81"/>
<circle class="y" cx="322.1" cy="112.4" r="1.81"/>
<circle class="n" cx="313.9" cy="112.4" r="1.60"/>
<circle class="y" cx="307.3" cy="114.0" r="1.81"/>
<circle class="n" cx="310.6" cy="114.8" r="1.60"/>
<circle class="n" cx="304.8" cy="116.5" r="2.05"/>
<circle class="n" cx="308.1" cy="118.1" r="2.05"/>
<circle class="y" cx="324.6" cy="114.8" r="1.81"/>
<circle class="n" cx="320.5" cy="116.5" r="1.60"/>
<circle class="n" cx="327.1" cy="117.3" r="1.60"/>
<circle class="n" cx="330.4" cy="114.8" r="1.60"/>
<circle class="n" cx="333.7" cy="118.1" r="1.60"/>
<circle class="n" cx="305.6" cy="120.6" r="2.05"/>
<circle class="n" cx="309.8" cy="121.4" r="1.60"/>
<circle class="n" cx="313.9" cy="119.8" r="1.60"/>
<circle class="n" cx="311.4" cy="124.7" r="1.60"/>
<circle class="n" cx="306.5" cy="125.5" r="2.05"/>
<circle class="y" cx="324.6" cy="120.6" r="2.32"/>
<circle class="n" cx="322.1" cy="123.1" r="1.60"/>
<circle class="r" cx="318.0" cy="125.5" r="1.44"/>
<circle class="n" cx="327.1" cy="123.1" r="1.60"/>
<circle class="n" cx="338.6" cy="119.8" r="1.60"/>
<circle class="y" cx="342.7" cy="124.7" r="1.81"/>
<circle class="n" cx="337.0" cy="124.7" r="1.60"/>
<circle class="y" cx="333.7" cy="125.5" r="1.81"/>
<circle class="n" cx="330.4" cy="127.2" r="1.60"/>
<circle class="n" cx="54.5" cy="141.2" r="2.05"/>
<circle class="n" cx="62.2" cy="155.3" r="1.60"/>
<circle class="n" cx="60.1" cy="159.8" r="2.05"/>
<circle class="r" cx="77.9" cy="160.3" r="1.44"/>
<circle class="g" cx="80.8" cy="157.3" r="1.52"/>
<circle class="n" cx="81.2" cy="159.8" r="1.22"/>
<circle class="g" cx="79.5" cy="164.7" r="1.52"/>
<circle class="r" cx="82.8" cy="131.8" r="2.43"/>
<circle class="g" cx="98.5" cy="128.5" r="1.99"/>
<circle class="r" cx="112.5" cy="126.8" r="1.89"/>
<circle class="n" cx="120.7" cy="127.6" r="1.60"/>
<circle class="r" cx="107.5" cy="130.9" r="1.89"/>
<circle class="g" cx="110.8" cy="131.8" r="1.99"/>
<circle class="g" cx="122.4" cy="132.6" r="1.99"/>
<circle class="n" cx="119.1" cy="134.2" r="1.60"/>
<circle class="n" cx="98.5" cy="134.2" r="1.60"/>
<circle class="n" cx="97.6" cy="138.4" r="2.05"/>
<circle class="n" cx="85.3" cy="141.6" r="2.05"/>
<circle class="n" cx="105.9" cy="137.5" r="1.60"/>
<circle class="n" cx="110.8" cy="136.7" r="1.60"/>
<circle class="n" cx="112.5" cy="140.0" r="1.60"/>
<circle class="n" cx="116.6" cy="138.4" r="1.60"/>
<circle class="n" cx="110.0" cy="142.5" r="1.60"/>
<circle class="n" cx="105.1" cy="142.5" r="1.60"/>
<circle class="n" cx="114.1" cy="144.1" r="1.60"/>
<circle class="n" cx="121.5" cy="139.2" r="1.60"/>
<circle class="g" cx="120.7" cy="141.6" r="1.52"/>
<circle class="n" cx="123.2" cy="144.1" r="1.22"/>
<circle class="n" cx="98.5" cy="142.5" r="1.60"/>
<circle class="g" cx="100.1" cy="143.3" r="1.52"/>
<circle class="y" cx="97.6" cy="145.8" r="1.81"/>
<circle class="y" cx="96.8" cy="149.1" r="1.81"/>
<circle class="n" cx="100.9" cy="147.4" r="1.22"/>
<circle class="n" cx="86.9" cy="150.7" r="1.60"/>
<circle class="n" cx="90.2" cy="150.7" r="1.60"/>
<circle class="n" cx="88.6" cy="153.2" r="1.22"/>
<circle class="y" cx="112.5" cy="148.2" r="1.81"/>
<circle class="g" cx="110.8" cy="147.4" r="1.52"/>
<circle class="n" cx="109.2" cy="146.6" r="1.60"/>
<circle class="y" cx="118.2" cy="147.4" r="1.81"/>
<circle class="n" cx="116.6" cy="148.2" r="1.60"/>
<circle class="y" cx="114.9" cy="150.7" r="1.81"/>
<circle class="g" cx="116.6" cy="150.7" r="1.52"/>
<circle class="r" cx="119.9" cy="151.5" r="1.89"/>
<circle class="y" cx="113.3" cy="152.4" r="1.81"/>
<circle class="n" cx="122.4" cy="150.7" r="1.60"/>
<circle class="r" cx="101.8" cy="151.5" r="1.89"/>
<circle class="n" cx="99.3" cy="153.2" r="1.22"/>
<circle class="r" cx="85.3" cy="156.5" r="1.89"/>
<circle class="y" cx="96.0" cy="156.5" r="2.32"/>
<circle class="g" cx="103.4" cy="154.0" r="1.52"/>
<circle class="n" cx="106.7" cy="153.2" r="1.60"/>
<circle class="r" cx="112.5" cy="154.8" r="1.89"/>
<circle class="y" cx="110.0" cy="157.3" r="1.81"/>
<circle class="n" cx="114.9" cy="157.3" r="1.60"/>
<circle class="y" cx="119.9" cy="154.8" r="1.81"/>
<circle class="n" cx="103.4" cy="156.5" r="1.60"/>
<circle class="c" cx="108.4" cy="156.5" r="1.41"/>
<circle class="n" cx="105.1" cy="158.1" r="1.60"/>
<circle class="g" cx="110.8" cy="158.1" r="1.99"/>
<circle class="n" cx="115.8" cy="158.9" r="2.05"/>
<circle class="r" cx="102.6" cy="160.6" r="1.89"/>
<circle class="g" cx="105.9" cy="160.6" r="1.99"/>
<circle class="y" cx="111.6" cy="160.6" r="1.81"/>
<circle class="n" cx="120.7" cy="163.1" r="1.60"/>
<circle class="g" cx="91.9" cy="163.1" r="1.99"/>
<circle class="n" cx="97.6" cy="164.7" r="1.60"/>
<circle class="n" cx="100.1" cy="166.4" r="1.60"/>
<circle class="r" cx="103.4" cy="164.7" r="1.89"/>
<circle class="g" cx="108.4" cy="165.5" r="1.99"/>
<circle class="n" cx="111.6" cy="163.9" r="1.60"/>
<circle class="y" cx="114.1" cy="165.5" r="1.81"/>
<circle class="y" cx="117.4" cy="166.4" r="1.81"/>
<circle class="g" cx="121.5" cy="165.5" r="1.99"/>
<circle class="n" cx="106.7" cy="163.1" r="1.60"/>
<circle class="g" cx="124.8" cy="132.6" r="1.99"/>
<circle class="n" cx="128.9" cy="127.6" r="1.60"/>
<circle class="g" cx="130.6" cy="130.1" r="1.99"/>
<circle class="y" cx="135.5" cy="129.3" r="1.81"/>
<circle class="r" cx="133.9" cy="130.9" r="1.89"/>
<circle class="n" cx="137.2" cy="126.8" r="1.60"/>
<circle class="g" cx="139.6" cy="127.6" r="1.99"/>
<circle class="n" cx="142.1" cy="127.6" r="1.60"/>
<circle class="n" cx="143.8" cy="130.9" r="1.60"/>
<circle class="g" cx="138.8" cy="132.6" r="1.99"/>
<circle class="n" cx="136.4" cy="133.4" r="1.60"/>
<circle class="y" cx="140.5" cy="133.4" r="1.81"/>
<circle class="n" cx="148.7" cy="128.5" r="1.60"/>
<circle class="g" cx="152.0" cy="130.1" r="1.99"/>
<circle class="n" cx="154.5" cy="126.8" r="1.60"/>
<circle class="g" cx="156.9" cy="132.6" r="1.99"/>
<circle class="n" cx="159.4" cy="128.5" r="1.60"/>
<circle class="c" cx="158.6" cy="133.4" r="1.41"/>
<circle class="r" cx="162.7" cy="133.4" r="1.89"/>
<circle class="n" cx="164.4" cy="129.3" r="1.60"/>
<circle class="g" cx="165.2" cy="132.6" r="1.99"/>
<circle class="n" cx="147.1" cy="132.6" r="1.60"/>
<circle class="g" cx="150.4" cy="133.4" r="1.99"/>
<circle class="n" cx="127.3" cy="135.9" r="1.60"/>
<circle class="g" cx="131.4" cy="135.9" r="1.99"/>
<circle class="n" cx="133.1" cy="138.4" r="1.60"/>
<circle class="g" cx="138.0" cy="137.5" r="1.99"/>
<circle class="n" cx="140.5" cy="136.7" r="1.60"/>
<circle class="y" cx="142.1" cy="138.4" r="1.81"/>
<circle class="n" cx="136.4" cy="140.8" r="1.60"/>
<circle class="y" cx="141.3" cy="142.5" r="1.81"/>
<circle class="n" cx="145.4" cy="139.2" r="1.60"/>
<circle class="g" cx="147.9" cy="136.7" r="1.99"/>
<circle class="n" cx="150.4" cy="138.4" r="1.60"/>
<circle class="g" cx="152.8" cy="141.6" r="1.99"/>
<circle class="n" cx="154.5" cy="136.7" r="1.60"/>
<circle class="g" cx="156.9" cy="139.2" r="1.99"/>
<circle class="c" cx="158.6" cy="138.4" r="1.41"/>
<circle class="n" cx="161.1" cy="140.0" r="1.60"/>
<circle class="r" cx="161.1" cy="142.5" r="1.89"/>
<circle class="n" cx="164.4" cy="140.0" r="1.60"/>
<circle class="y" cx="129.8" cy="144.1" r="1.81"/>
<circle class="n" cx="133.1" cy="144.9" r="1.60"/>
<circle class="n" cx="137.2" cy="145.8" r="1.60"/>
<circle class="g" cx="136.4" cy="147.4" r="1.99"/>
<circle class="n" cx="140.5" cy="147.4" r="1.60"/>
<circle class="g" cx="143.8" cy="146.6" r="1.99"/>
<circle class="n" cx="148.7" cy="144.9" r="1.60"/>
<circle class="g" cx="151.2" cy="147.4" r="1.99"/>
<circle class="n" cx="154.5" cy="145.8" r="1.60"/>
<circle class="g" cx="157.8" cy="144.9" r="1.99"/>
<circle class="y" cx="164.4" cy="147.4" r="1.81"/>
<circle class="g" cx="162.7" cy="149.1" r="1.99"/>
<circle class="g" cx="124.8" cy="150.7" r="1.99"/>
<circle class="n" cx="128.9" cy="149.1" r="1.60"/>
<circle class="n" cx="133.1" cy="149.9" r="1.60"/>
<circle class="n" cx="138.8" cy="150.7" r="1.60"/>
<circle class="n" cx="143.8" cy="150.7" r="1.60"/>
<circle class="n" cx="147.9" cy="149.9" r="1.60"/>
<circle class="n" cx="152.0" cy="150.7" r="1.60"/>
<circle class="y" cx="156.9" cy="150.7" r="1.81"/>
<circle class="n" cx="159.4" cy="150.7" r="1.60"/>
<circle class="n" cx="165.2" cy="151.5" r="1.60"/>
<circle class="n" cx="126.5" cy="153.2" r="1.60"/>
<circle class="r" cx="130.6" cy="156.5" r="1.89"/>
<circle class="n" cx="132.2" cy="154.0" r="1.60"/>
<circle class="g" cx="134.7" cy="153.2" r="1.99"/>
<circle class="n" cx="136.4" cy="155.6" r="1.60"/>
<circle class="y" cx="139.6" cy="152.4" r="1.81"/>
<circle class="g" cx="138.8" cy="156.5" r="1.99"/>
<circle class="n" cx="142.9" cy="154.8" r="1.60"/>
<circle class="n" cx="148.7" cy="153.2" r="1.60"/>
<circle class="y" cx="151.2" cy="156.5" r="1.81"/>
<circle class="c" cx="157.8" cy="156.5" r="1.41"/>
<circle class="g" cx="153.6" cy="158.9" r="1.99"/>
<circle class="n" cx="156.1" cy="154.8" r="1.60"/>
<circle class="y" cx="163.5" cy="154.8" r="1.81"/>
<circle class="n" cx="160.2" cy="154.0" r="1.60"/>
<circle class="g" cx="161.9" cy="157.3" r="1.99"/>
<circle class="n" cx="142.1" cy="158.1" r="1.60"/>
<circle class="y" cx="145.4" cy="158.9" r="1.81"/>
<circle class="g" cx="125.6" cy="160.6" r="1.99"/>
<circle class="n" cx="128.9" cy="161.4" r="1.60"/>
<circle class="g" cx="131.4" cy="164.7" r="1.99"/>
<circle class="n" cx="133.9" cy="160.6" r="1.60"/>
<circle class="n" cx="136.4" cy="163.1" r="1.60"/>
<circle class="g" cx="138.8" cy="161.4" r="1.99"/>
<circle class="y" cx="140.5" cy="163.9" r="1.81"/>
<circle class="y" cx="145.4" cy="163.1" r="2.32"/>
<circle class="g" cx="147.9" cy="164.7" r="1.99"/>
<circle class="n" cx="150.4" cy="161.4" r="1.60"/>
<circle class="y" cx="156.1" cy="161.4" r="1.81"/>
<circle class="g" cx="159.4" cy="160.6" r="1.99"/>
<circle class="n" cx="154.5" cy="165.5" r="1.60"/>
<circle class="n" cx="161.1" cy="164.7" r="1.60"/>
<circle class="y" cx="163.5" cy="166.4" r="1.81"/>
<circle class="n" cx="134.7" cy="166.4" r="1.60"/>
<circle class="g" cx="127.3" cy="165.5" r="1.99"/>
<circle class="n" cx="166.8" cy="127.6" r="1.60"/>
<circle class="n" cx="178.4" cy="126.8" r="1.60"/>
<circle class="n" cx="180.8" cy="128.5" r="1.60"/>
<circle class="n" cx="190.7" cy="129.3" r="1.60"/>
<circle class="n" cx="194.0" cy="126.8" r="1.60"/>
<circle class="n" cx="198.1" cy="127.6" r="1.60"/>
<circle class="g" cx="199.8" cy="130.1" r="1.52"/>
<circle class="y" cx="201.4" cy="127.6" r="1.81"/>
<circle class="n" cx="204.7" cy="129.3" r="1.60"/>
<circle class="c" cx="202.2" cy="132.6" r="1.85"/>
<circle class="n" cx="206.4" cy="133.4" r="1.60"/>
<circle class="r" cx="169.3" cy="133.4" r="1.89"/>
<circle class="n" cx="173.4" cy="133.4" r="1.60"/>
<circle class="n" cx="177.5" cy="133.4" r="1.60"/>
<circle class="n" cx="183.3" cy="134.2" r="1.60"/>
<circle class="n" cx="185.8" cy="131.8" r="1.60"/>
<circle class="n" cx="189.1" cy="135.1" r="1.60"/>
<circle class="n" cx="194.8" cy="132.6" r="1.60"/>
<circle class="n" cx="197.3" cy="135.1" r="1.60"/>
<circle class="n" cx="166.8" cy="136.7" r="1.60"/>
<circle class="n" cx="170.9" cy="135.9" r="1.60"/>
<circle class="g" cx="175.9" cy="138.4" r="1.99"/>
<circle class="n" cx="178.4" cy="135.9" r="1.60"/>
<circle class="r" cx="181.6" cy="140.0" r="1.89"/>
<circle class="n" cx="187.4" cy="137.5" r="1.60"/>
<circle class="n" cx="190.7" cy="138.4" r="1.60"/>
<circle class="n" cx="192.4" cy="135.9" r="1.60"/>
<circle class="n" cx="196.5" cy="137.5" r="1.60"/>
<circle class="n" cx="199.8" cy="138.4" r="1.60"/>
<circle class="n" cx="203.9" cy="136.7" r="1.60"/>
<circle class="y" cx="206.4" cy="135.9" r="1.81"/>
<circle class="y" cx="176.7" cy="142.5" r="2.32"/>
<circle class="n" cx="172.6" cy="140.8" r="1.60"/>
<circle class="n" cx="184.1" cy="141.6" r="1.60"/>
<circle class="n" cx="187.4" cy="142.5" r="1.60"/>
<circle class="n" cx="189.9" cy="140.8" r="1.60"/>
<circle class="n" cx="194.0" cy="142.5" r="1.60"/>
<circle class="y" cx="198.9" cy="142.5" r="2.32"/>
<circle class="y" cx="203.1" cy="141.6" r="1.81"/>
<circle class="n" cx="207.2" cy="140.8" r="1.60"/>
<circle class="n" cx="166.8" cy="141.6" r="1.60"/>
<circle class="n" cx="167.6" cy="145.8" r="1.60"/>
<circle class="c" cx="167.6" cy="145.8" r="1.85"/>
<circle class="y" cx="171.8" cy="146.6" r="1.81"/>
<circle class="n" cx="170.1" cy="149.1" r="1.60"/>
<circle class="c" cx="168.5" cy="150.7" r="1.85"/>
<circle class="n" cx="173.4" cy="150.7" r="1.60"/>
<circle class="n" cx="175.9" cy="145.8" r="1.60"/>
<circle class="n" cx="179.2" cy="148.2" r="1.60"/>
<circle class="n" cx="180.8" cy="144.9" r="1.60"/>
<circle class="y" cx="185.8" cy="149.9" r="1.81"/>
<circle class="y" cx="189.9" cy="148.2" r="1.81"/>
<circle class="y" cx="194.8" cy="146.6" r="2.32"/>
<circle class="y" cx="198.1" cy="145.8" r="1.81"/>
<circle class="y" cx="201.4" cy="144.9" r="1.81"/>
<circle class="y" cx="205.5" cy="147.4" r="2.32"/>
<circle class="y" cx="203.9" cy="149.9" r="1.81"/>
<circle class="y" cx="199.8" cy="149.9" r="2.32"/>
<circle class="n" cx="192.4" cy="149.1" r="1.60"/>
<circle class="n" cx="182.5" cy="147.4" r="1.60"/>
<circle class="c" cx="169.3" cy="153.2" r="1.85"/>
<circle class="y" cx="172.6" cy="154.8" r="1.81"/>
<circle class="n" cx="167.6" cy="156.5" r="1.60"/>
<circle class="y" cx="173.4" cy="158.1" r="1.81"/>
<circle class="n" cx="170.9" cy="158.9" r="1.60"/>
<circle class="n" cx="177.5" cy="154.0" r="1.60"/>
<circle class="n" cx="178.4" cy="158.1" r="1.60"/>
<circle class="y" cx="181.6" cy="156.5" r="2.32"/>
<circle class="y" cx="185.8" cy="154.8" r="2.32"/>
<circle class="y" cx="189.1" cy="157.3" r="2.32"/>
<circle class="y" cx="193.2" cy="154.0" r="2.32"/>
<circle class="y" cx="196.5" cy="157.3" r="1.81"/>
<circle class="y" cx="199.8" cy="154.8" r="1.81"/>
<circle class="y" cx="203.9" cy="155.6" r="2.32"/>
<circle class="y" cx="206.4" cy="158.1" r="1.81"/>
<circle class="y" cx="201.4" cy="158.9" r="1.81"/>
<circle class="n" cx="191.5" cy="152.4" r="1.60"/>
<circle class="y" cx="184.1" cy="158.9" r="1.81"/>
<circle class="n" cx="179.2" cy="152.4" r="1.60"/>
<circle class="g" cx="173.4" cy="161.4" r="1.52"/>
<circle class="n" cx="169.3" cy="162.2" r="1.60"/>
<circle class="y" cx="168.5" cy="165.5" r="1.81"/>
<circle class="n" cx="172.6" cy="164.7" r="1.60"/>
<circle class="y" cx="175.9" cy="166.4" r="1.81"/>
<circle class="n" cx="179.2" cy="162.2" r="1.60"/>
<circle class="y" cx="182.5" cy="161.4" r="1.81"/>
<circle class="y" cx="187.4" cy="162.2" r="2.32"/>
<circle class="y" cx="190.7" cy="159.8" r="1.81"/>
<circle class="y" cx="193.2" cy="163.1" r="2.32"/>
<circle class="y" cx="197.3" cy="161.4" r="1.81"/>
<circle class="y" cx="200.6" cy="163.1" r="1.81"/>
<circle class="y" cx="204.7" cy="162.2" r="1.81"/>
<circle class="y" cx="207.2" cy="164.7" r="1.81"/>
<circle class="y" cx="189.1" cy="166.4" r="1.81"/>
<circle class="y" cx="184.9" cy="166.4" r="1.81"/>
<circle class="n" cx="180.8" cy="165.5" r="1.60"/>
<circle class="y" cx="198.9" cy="166.4" r="1.81"/>
<circle class="y" cx="203.9" cy="166.4" r="1.81"/>
<circle class="n" cx="194.8" cy="166.4" r="1.60"/>
<circle class="n" cx="186.6" cy="164.7" r="1.60"/>
<circle class="n" cx="208.8" cy="127.6" r="1.60"/>
<circle class="y" cx="209.6" cy="132.6" r="1.81"/>
<circle class="n" cx="212.1" cy="133.4" r="1.60"/>
<circle class="n" cx="222.0" cy="129.3" r="1.60"/>
<circle class="n" cx="224.5" cy="131.8" r="1.60"/>
<circle class="y" cx="229.4" cy="129.3" r="1.81"/>
<circle class="n" cx="226.9" cy="126.8" r="1.60"/>
<circle class="n" cx="232.7" cy="128.5" r="1.60"/>
<circle class="y" cx="235.2" cy="133.4" r="2.32"/>
<circle class="n" cx="238.5" cy="130.9" r="1.60"/>
<circle class="y" cx="241.8" cy="127.6" r="1.81"/>
<circle class="n" cx="245.1" cy="129.3" r="1.60"/>
<circle class="y" cx="247.5" cy="131.8" r="1.81"/>
<circle class="n" cx="249.2" cy="127.6" r="1.60"/>
<circle class="y" cx="243.4" cy="133.4" r="1.81"/>
<circle class="n" cx="230.2" cy="133.4" r="1.60"/>
<circle class="n" cx="217.9" cy="134.2" r="1.60"/>
<circle class="y" cx="223.6" cy="134.2" r="1.81"/>
<circle class="y" cx="208.8" cy="136.7" r="1.81"/>
<circle class="n" cx="212.1" cy="138.4" r="1.60"/>
<circle class="n" cx="215.4" cy="136.7" r="1.60"/>
<circle class="y" cx="212.9" cy="141.6" r="1.81"/>
<circle class="n" cx="219.5" cy="137.5" r="1.60"/>
<circle class="n" cx="222.8" cy="139.2" r="1.60"/>
<circle class="y" cx="227.8" cy="138.4" r="2.32"/>
<circle class="y" cx="228.6" cy="141.6" r="1.81"/>
<circle class="n" cx="232.7" cy="137.5" r="1.60"/>
<circle class="y" cx="234.4" cy="138.4" r="1.81"/>
<circle class="n" cx="236.8" cy="140.8" r="1.60"/>
<circle class="y" cx="240.9" cy="138.4" r="1.81"/>
<circle class="y" cx="245.1" cy="136.7" r="1.81"/>
<circle class="n" cx="247.5" cy="139.2" r="1.60"/>
<circle class="y" cx="243.4" cy="141.6" r="1.81"/>
<circle class="n" cx="240.1" cy="141.6" r="1.60"/>
<circle class="n" cx="249.2" cy="135.9" r="1.60"/>
<circle class="n" cx="231.9" cy="141.6" r="1.60"/>
<circle class="y" cx="208.8" cy="143.3" r="1.81"/>
<circle class="y" cx="210.5" cy="144.9" r="2.32"/>
<circle class="y" cx="213.8" cy="146.6" r="1.81"/>
<circle class="n" cx="217.1" cy="144.9" r="1.60"/>
<circle class="y" cx="215.4" cy="149.1" r="1.81"/>
<circle class="n" cx="219.5" cy="145.8" r="1.60"/>
<circle class="y" cx="223.6" cy="144.9" r="1.81"/>
<circle class="n" cx="226.1" cy="146.6" r="1.60"/>
<circle class="y" cx="227.8" cy="149.1" r="1.81"/>
<circle class="y" cx="232.7" cy="144.1" r="1.81"/>
<circle class="n" cx="231.1" cy="148.2" r="1.60"/>
<circle class="g" cx="237.6" cy="146.6" r="1.52"/>
<circle class="n" cx="236.8" cy="144.1" r="1.60"/>
<circle class="y" cx="240.1" cy="144.1" r="1.81"/>
<circle class="n" cx="242.6" cy="146.6" r="1.60"/>
<circle class="y" cx="245.1" cy="144.1" r="1.81"/>
<circle class="c" cx="247.2" cy="144.9" r="1.85"/>
<circle class="n" cx="248.4" cy="147.4" r="1.60"/>
<circle class="c" cx="234.4" cy="149.9" r="1.85"/>
<circle class="g" cx="240.1" cy="149.9" r="1.52"/>
<circle class="n" cx="244.2" cy="149.9" r="1.60"/>
<circle class="n" cx="208.8" cy="148.2" r="1.60"/>
<circle class="n" cx="209.6" cy="151.5" r="1.60"/>
<circle class="g" cx="211.3" cy="154.8" r="2.56"/>
<circle class="n" cx="214.6" cy="152.4" r="1.60"/>
<circle class="y" cx="216.2" cy="156.5" r="1.81"/>
<circle class="y" cx="219.5" cy="155.6" r="1.81"/>
<circle class="n" cx="222.8" cy="152.4" r="1.60"/>
<circle class="n" cx="224.5" cy="156.5" r="1.60"/>
<circle class="n" cx="227.8" cy="153.2" r="1.60"/>
<circle class="y" cx="230.2" cy="153.2" r="1.81"/>
<circle class="n" cx="233.5" cy="154.0" r="1.60"/>
<circle class="y" cx="239.3" cy="152.4" r="2.32"/>
<circle class="g" cx="236.8" cy="154.8" r="1.52"/>
<circle class="n" cx="236.8" cy="157.3" r="1.60"/>
<circle class="g" cx="242.6" cy="150.7" r="1.52"/>
<circle class="n" cx="245.9" cy="154.0" r="1.60"/>
<circle class="n" cx="248.4" cy="156.5" r="1.60"/>
<circle class="y" cx="212.1" cy="158.1" r="1.81"/>
<circle class="y" cx="208.8" cy="156.5" r="1.81"/>
<circle class="y" cx="210.5" cy="160.6" r="1.81"/>
<circle class="n" cx="213.8" cy="160.6" r="1.60"/>
<circle class="y" cx="217.1" cy="163.1" r="1.81"/>
<circle class="n" cx="220.4" cy="160.6" r="1.60"/>
<circle class="n" cx="223.6" cy="163.1" r="1.60"/>
<circle class="n" cx="226.9" cy="160.6" r="1.60"/>
<circle class="n" cx="231.1" cy="163.1" r="1.60"/>
<circle class="y" cx="235.2" cy="159.8" r="1.81"/>
<circle class="n" cx="234.4" cy="163.1" r="1.60"/>
<circle class="y" cx="236.8" cy="163.1" r="1.81"/>
<circle class="n" cx="241.8" cy="161.4" r="1.60"/>
<circle class="n" cx="245.9" cy="160.6" r="1.60"/>
<circle class="n" cx="248.4" cy="163.9" r="1.60"/>
<circle class="y" cx="244.2" cy="165.5" r="1.81"/>
<circle class="n" cx="240.9" cy="166.4" r="1.60"/>
<circle class="n" cx="217.9" cy="166.4" r="1.60"/>
<circle class="n" cx="226.1" cy="166.4" r="1.60"/>
<circle class="n" cx="229.4" cy="166.4" r="1.60"/>
<circle class="n" cx="232.7" cy="166.4" r="1.60"/>
<circle class="y" cx="215.4" cy="164.7" r="1.81"/>
<circle class="n" cx="211.3" cy="165.5" r="1.60"/>
<circle class="y" cx="251.6" cy="127.6" r="1.81"/>
<circle class="y" cx="254.9" cy="130.1" r="1.81"/>
<circle class="n" cx="253.3" cy="132.6" r="1.60"/>
<circle class="y" cx="258.2" cy="128.5" r="1.81"/>
<circle class="c" cx="261.5" cy="128.5" r="1.85"/>
<circle class="n" cx="264.0" cy="126.8" r="1.60"/>
<circle class="y" cx="266.5" cy="129.3" r="1.81"/>
<circle class="n" cx="269.8" cy="128.5" r="1.60"/>
<circle class="n" cx="273.1" cy="127.6" r="1.60"/>
<circle class="g" cx="273.1" cy="132.6" r="1.52"/>
<circle class="y" cx="276.4" cy="130.1" r="1.81"/>
<circle class="n" cx="279.6" cy="128.5" r="1.60"/>
<circle class="r" cx="282.9" cy="129.3" r="1.44"/>
<circle class="n" cx="286.2" cy="127.6" r="1.60"/>
<circle class="y" cx="289.5" cy="128.5" r="1.81"/>
<circle class="n" cx="290.4" cy="132.6" r="1.60"/>
<circle class="y" cx="278.8" cy="132.6" r="1.81"/>
<circle class="n" cx="282.9" cy="133.4" r="1.60"/>
<circle class="y" cx="287.1" cy="131.8" r="1.81"/>
<circle class="y" cx="251.6" cy="132.6" r="1.81"/>
<circle class="y" cx="258.2" cy="134.2" r="1.81"/>
<circle class="y" cx="262.4" cy="133.4" r="1.81"/>
<circle class="n" cx="267.3" cy="131.8" r="1.60"/>
<circle class="y" cx="269.8" cy="134.2" r="1.81"/>
<circle class="n" cx="250.8" cy="135.9" r="1.60"/>
<circle class="n" cx="254.1" cy="137.5" r="1.60"/>
<circle class="y" cx="255.8" cy="139.2" r="1.81"/>
<circle class="g" cx="251.6" cy="140.8" r="1.99"/>
<circle class="n" cx="257.4" cy="138.4" r="1.60"/>
<circle class="n" cx="261.5" cy="137.5" r="1.60"/>
<circle class="y" cx="265.6" cy="135.1" r="1.81"/>
<circle class="r" cx="265.6" cy="138.4" r="1.89"/>
<circle class="n" cx="268.9" cy="137.5" r="1.60"/>
<circle class="y" cx="274.7" cy="135.9" r="1.81"/>
<circle class="n" cx="277.2" cy="138.4" r="1.60"/>
<circle class="y" cx="275.5" cy="140.0" r="1.81"/>
<circle class="n" cx="280.5" cy="136.7" r="1.60"/>
<circle class="n" cx="282.9" cy="140.0" r="1.60"/>
<circle class="n" cx="287.1" cy="137.5" r="1.60"/>
<circle class="y" cx="289.5" cy="136.7" r="1.81"/>
<circle class="n" cx="291.2" cy="140.0" r="1.60"/>
<circle class="y" cx="253.3" cy="142.5" r="1.81"/>
<circle class="y" cx="259.1" cy="142.5" r="1.81"/>
<circle class="n" cx="262.4" cy="141.6" r="1.60"/>
<circle class="y" cx="268.1" cy="142.5" r="1.81"/>
<circle class="c" cx="271.4" cy="141.6" r="1.85"/>
<circle class="n" cx="266.5" cy="140.0" r="1.60"/>
<circle class="n" cx="279.6" cy="141.6" r="1.60"/>
<circle class="n" cx="251.6" cy="144.1" r="1.60"/>
<circle class="c" cx="255.8" cy="145.8" r="2.38"/>
<circle class="c" cx="254.1" cy="147.4" r="1.85"/>
<circle class="n" cx="259.9" cy="144.9" r="1.60"/>
<circle class="y" cx="265.6" cy="147.4" r="1.81"/>
<circle class="n" cx="262.4" cy="148.2" r="1.60"/>
<circle class="y" cx="266.5" cy="144.9" r="1.81"/>
<circle class="n" cx="269.8" cy="145.8" r="1.60"/>
<circle class="n" cx="273.1" cy="144.9" r="1.60"/>
<circle class="n" cx="276.4" cy="144.1" r="1.60"/>
<circle class="n" cx="280.5" cy="145.8" r="1.60"/>
<circle class="n" cx="283.8" cy="144.9" r="1.60"/>
<circle class="n" cx="287.9" cy="144.1" r="1.60"/>
<circle class="n" cx="291.2" cy="145.8" r="1.60"/>
<circle class="n" cx="252.5" cy="149.9" r="1.60"/>
<circle class="n" cx="256.6" cy="149.9" r="1.60"/>
<circle class="n" cx="260.7" cy="150.7" r="1.60"/>
<circle class="n" cx="266.5" cy="149.9" r="1.60"/>
<circle class="y" cx="275.5" cy="150.7" r="1.81"/>
<circle class="n" cx="272.2" cy="149.9" r="1.60"/>
<circle class="n" cx="278.8" cy="149.1" r="1.60"/>
<circle class="n" cx="282.9" cy="148.2" r="1.60"/>
<circle class="y" cx="251.6" cy="154.0" r="1.81"/>
<circle class="n" cx="254.9" cy="152.4" r="1.60"/>
<circle class="n" cx="258.2" cy="154.8" r="1.60"/>
<circle class="y" cx="259.1" cy="156.5" r="1.81"/>
<circle class="n" cx="263.2" cy="153.2" r="1.60"/>
<circle class="n" cx="266.5" cy="154.8" r="1.60"/>
<circle class="n" cx="271.4" cy="153.2" r="1.60"/>
<circle class="n" cx="269.8" cy="157.3" r="1.60"/>
<circle class="g" cx="273.1" cy="156.5" r="1.52"/>
<circle class="n" cx="277.2" cy="154.0" r="1.60"/>
<circle class="n" cx="278.8" cy="157.3" r="1.60"/>
<circle class="n" cx="251.6" cy="158.1" r="1.60"/>
<circle class="n" cx="255.8" cy="158.9" r="1.60"/>
<circle class="n" cx="259.9" cy="158.1" r="1.60"/>
<circle class="n" cx="264.0" cy="158.1" r="1.60"/>
<circle class="n" cx="289.5" cy="156.5" r="2.05"/>
<circle class="n" cx="285.4" cy="154.0" r="1.60"/>
<circle class="n" cx="252.5" cy="161.4" r="1.60"/>
<circle class="n" cx="256.6" cy="163.1" r="1.60"/>
<circle class="n" cx="259.9" cy="160.6" r="1.60"/>
<circle class="n" cx="264.0" cy="162.2" r="1.60"/>
<circle class="n" cx="268.1" cy="159.8" r="1.60"/>
<circle class="n" cx="266.5" cy="163.9" r="1.60"/>
<circle class="n" cx="276.4" cy="159.8" r="2.05"/>
<circle class="n" cx="279.6" cy="161.4" r="2.05"/>
<circle class="r" cx="282.1" cy="161.4" r="1.44"/>
<circle class="n" cx="285.4" cy="160.6" r="1.60"/>
<circle class="n" cx="289.5" cy="162.2" r="1.60"/>
<circle class="n" cx="271.4" cy="165.5" r="1.60"/>
<circle class="n" cx="253.3" cy="166.4" r="1.60"/>
<circle class="n" cx="259.9" cy="165.5" r="1.60"/>
<circle class="n" cx="264.8" cy="167.2" r="1.60"/>
<circle class="n" cx="282.9" cy="166.4" r="1.60"/>
<circle class="y" cx="292.8" cy="130.9" r="1.81"/>
<circle class="r" cx="297.8" cy="126.8" r="1.44"/>
<circle class="n" cx="295.3" cy="128.5" r="1.60"/>
<circle class="n" cx="300.2" cy="127.6" r="1.60"/>
<circle class="n" cx="304.4" cy="126.8" r="1.60"/>
<circle class="n" cx="306.8" cy="129.3" r="1.60"/>
<circle class="n" cx="310.1" cy="127.6" r="1.60"/>
<circle class="n" cx="314.2" cy="129.3" r="1.60"/>
<circle class="n" cx="317.5" cy="126.8" r="1.60"/>
<circle class="n" cx="323.3" cy="128.5" r="1.60"/>
<circle class="n" cx="328.2" cy="127.6" r="1.60"/>
<circle class="n" cx="332.4" cy="129.3" r="1.60"/>
<circle class="c" cx="320.8" cy="132.6" r="1.85"/>
<circle class="y" cx="327.4" cy="134.2" r="1.81"/>
<circle class="n" cx="330.7" cy="133.4" r="1.60"/>
<circle class="n" cx="292.8" cy="133.4" r="1.60"/>
<circle class="n" cx="296.9" cy="132.6" r="1.60"/>
<circle class="n" cx="301.9" cy="132.6" r="1.60"/>
<circle class="n" cx="306.0" cy="133.4" r="1.60"/>
<circle class="n" cx="311.8" cy="132.6" r="1.60"/>
<circle class="n" cx="315.9" cy="133.4" r="1.60"/>
<circle class="n" cx="318.4" cy="134.2" r="1.60"/>
<circle class="n" cx="293.6" cy="135.9" r="1.60"/>
<circle class="n" cx="297.8" cy="137.5" r="1.60"/>
<circle class="n" cx="301.1" cy="135.1" r="1.60"/>
<circle class="n" cx="304.4" cy="138.4" r="1.60"/>
<circle class="n" cx="308.5" cy="135.9" r="1.60"/>
<circle class="n" cx="312.6" cy="137.5" r="1.60"/>
<circle class="n" cx="316.7" cy="136.7" r="1.60"/>
<circle class="n" cx="319.2" cy="138.4" r="1.60"/>
<circle class="y" cx="325.8" cy="136.7" r="1.81"/>
<circle class="n" cx="328.2" cy="138.4" r="1.60"/>
<circle class="y" cx="331.5" cy="139.2" r="1.81"/>
<circle class="n" cx="333.2" cy="135.9" r="1.60"/>
<circle class="n" cx="294.5" cy="140.8" r="1.60"/>
<circle class="n" cx="298.6" cy="140.8" r="1.60"/>
<circle class="n" cx="302.7" cy="141.6" r="1.60"/>
<circle class="n" cx="306.8" cy="140.8" r="1.60"/>
<circle class="n" cx="310.9" cy="141.6" r="1.60"/>
<circle class="n" cx="315.1" cy="140.8" r="1.60"/>
<circle class="n" cx="326.6" cy="141.6" r="1.60"/>
<circle class="n" cx="332.4" cy="142.5" r="1.60"/>
<circle class="n" cx="293.6" cy="144.9" r="1.60"/>
<circle class="n" cx="296.9" cy="144.1" r="1.60"/>
<circle class="n" cx="300.2" cy="146.6" r="1.60"/>
<circle class="n" cx="303.5" cy="144.9" r="1.60"/>
<circle class="n" cx="307.6" cy="144.9" r="1.60"/>
<circle class="n" cx="311.8" cy="146.6" r="1.60"/>
<circle class="n" cx="315.1" cy="145.8" r="1.60"/>
<circle class="n" cx="294.5" cy="149.1" r="1.60"/>
<circle class="n" cx="298.6" cy="149.9" r="1.60"/>
<circle class="n" cx="302.7" cy="149.1" r="1.60"/>
<circle class="n" cx="306.8" cy="149.9" r="1.60"/>
<circle class="n" cx="311.8" cy="149.9" r="1.60"/>
<circle class="n" cx="321.6" cy="147.4" r="1.60"/>
<circle class="n" cx="327.4" cy="145.8" r="1.60"/>
<circle class="n" cx="330.7" cy="148.2" r="1.60"/>
<circle class="n" cx="293.6" cy="153.2" r="1.60"/>
<circle class="n" cx="297.8" cy="154.8" r="1.60"/>
<circle class="n" cx="301.1" cy="153.2" r="1.60"/>
<circle class="n" cx="304.4" cy="155.6" r="1.60"/>
<circle class="n" cx="307.6" cy="157.3" r="1.60"/>
<circle class="n" cx="318.4" cy="152.4" r="1.60"/>
<circle class="n" cx="322.5" cy="151.5" r="1.60"/>
<circle class="r" cx="326.6" cy="151.5" r="1.89"/>
<circle class="n" cx="315.1" cy="158.1" r="1.60"/>
<circle class="n" cx="319.2" cy="157.3" r="1.60"/>
<circle class="n" cx="295.3" cy="158.1" r="1.60"/>
<circle class="n" cx="299.4" cy="158.9" r="2.05"/>
<circle class="n" cx="298.6" cy="161.4" r="1.60"/>
<circle class="n" cx="318.4" cy="160.6" r="1.60"/>
<circle class="n" cx="324.1" cy="161.4" r="1.60"/>
<circle class="n" cx="298.6" cy="167.2" r="1.60"/>
<circle class="n" cx="313.4" cy="167.2" r="1.60"/>
<circle class="c" cx="320.8" cy="132.6" r="1.85"/>
<circle class="n" cx="323.3" cy="127.6" r="1.60"/>
<circle class="n" cx="327.4" cy="128.5" r="1.60"/>
<circle class="n" cx="331.5" cy="126.8" r="1.60"/>
<circle class="n" cx="336.5" cy="128.5" r="1.60"/>
<circle class="n" cx="339.8" cy="130.9" r="1.60"/>
<circle class="n" cx="344.7" cy="127.6" r="1.60"/>
<circle class="y" cx="325.8" cy="135.9" r="1.81"/>
<circle class="n" cx="328.2" cy="137.5" r="1.60"/>
<circle class="n" cx="332.4" cy="135.9" r="1.60"/>
<circle class="n" cx="335.6" cy="138.4" r="1.60"/>
<circle class="y" cx="334.8" cy="140.0" r="1.81"/>
<circle class="n" cx="338.1" cy="140.8" r="1.60"/>
<circle class="n" cx="341.4" cy="135.9" r="1.60"/>
<circle class="n" cx="345.5" cy="136.7" r="1.60"/>
<circle class="n" cx="346.4" cy="140.8" r="1.60"/>
<circle class="y" cx="347.2" cy="142.5" r="1.81"/>
<circle class="n" cx="345.5" cy="145.8" r="1.60"/>
<circle class="n" cx="322.5" cy="139.2" r="1.60"/>
<circle class="n" cx="324.9" cy="142.5" r="1.60"/>
<circle class="n" cx="330.7" cy="141.6" r="1.60"/>
<circle class="n" cx="334.0" cy="144.1" r="1.60"/>
<circle class="y" cx="334.8" cy="144.9" r="1.81"/>
<circle class="n" cx="326.6" cy="144.9" r="1.60"/>
<circle class="n" cx="321.6" cy="148.2" r="1.60"/>
<circle class="n" cx="334.0" cy="149.1" r="1.60"/>
<circle class="n" cx="334.8" cy="152.4" r="1.60"/>
<circle class="r" cx="326.6" cy="152.0" r="1.89"/>
<circle class="n" cx="324.1" cy="152.4" r="1.60"/>
<circle class="n" cx="335.6" cy="158.1" r="1.60"/>
<circle class="n" cx="324.1" cy="162.2" r="1.60"/>
<circle class="n" cx="340.6" cy="160.6" r="1.60"/>
<circle class="n" cx="66.0" cy="170.5" r="1.60"/>
<circle class="g" cx="72.6" cy="171.0" r="1.99"/>
<circle class="n" cx="74.3" cy="177.1" r="1.60"/>
<circle class="g" cx="71.0" cy="179.2" r="1.99"/>
<circle class="n" cx="45.3" cy="182.5" r="2.05"/>
<circle class="n" cx="61.1" cy="181.2" r="1.60"/>
<circle class="n" cx="67.2" cy="184.0" r="1.60"/>
<circle class="n" cx="76.6" cy="182.0" r="1.60"/>
<circle class="n" cx="80.4" cy="180.4" r="1.60"/>
<circle class="n" cx="79.2" cy="187.8" r="1.60"/>
<circle class="n" cx="70.1" cy="190.2" r="1.60"/>
<circle class="n" cx="77.6" cy="191.1" r="1.60"/>
<circle class="n" cx="70.5" cy="194.4" r="1.60"/>
<circle class="n" cx="75.1" cy="194.0" r="1.60"/>
<circle class="n" cx="80.4" cy="192.7" r="1.60"/>
<circle class="n" cx="61.4" cy="196.8" r="2.05"/>
<circle class="n" cx="57.8" cy="200.9" r="2.05"/>
<circle class="g" cx="68.8" cy="199.0" r="1.99"/>
<circle class="n" cx="66.0" cy="199.3" r="1.60"/>
<circle class="n" cx="74.9" cy="198.5" r="1.60"/>
<circle class="n" cx="79.5" cy="199.3" r="1.60"/>
<circle class="n" cx="77.1" cy="203.4" r="1.60"/>
<circle class="n" cx="49.9" cy="207.2" r="1.60"/>
<circle class="n" cx="61.1" cy="207.5" r="1.60"/>
<circle class="n" cx="74.6" cy="207.5" r="2.05"/>
<circle class="r" cx="77.1" cy="209.2" r="1.44"/>
<circle class="n" cx="80.4" cy="205.1" r="1.60"/>
<circle class="n" cx="88.6" cy="168.8" r="1.60"/>
<circle class="g" cx="96.0" cy="168.8" r="1.99"/>
<circle class="r" cx="100.1" cy="171.3" r="1.89"/>
<circle class="g" cx="102.6" cy="170.5" r="1.99"/>
<circle class="n" cx="105.1" cy="168.8" r="1.60"/>
<circle class="g" cx="106.7" cy="171.3" r="1.99"/>
<circle class="g" cx="114.1" cy="169.6" r="1.99"/>
<circle class="n" cx="117.4" cy="168.8" r="1.60"/>
<circle class="y" cx="94.4" cy="171.3" r="1.81"/>
<circle class="g" cx="93.5" cy="174.6" r="1.99"/>
<circle class="n" cx="97.6" cy="173.8" r="1.60"/>
<circle class="r" cx="96.8" cy="172.9" r="1.89"/>
<circle class="n" cx="84.5" cy="174.6" r="1.60"/>
<circle class="g" cx="88.6" cy="176.2" r="1.99"/>
<circle class="n" cx="103.4" cy="173.8" r="1.60"/>
<circle class="g" cx="110.0" cy="175.4" r="1.99"/>
<circle class="n" cx="114.9" cy="174.6" r="1.60"/>
<circle class="y" cx="118.2" cy="175.4" r="1.81"/>
<circle class="g" cx="120.7" cy="176.2" r="1.99"/>
<circle class="r" cx="86.9" cy="179.5" r="1.89"/>
<circle class="y" cx="94.4" cy="177.9" r="1.81"/>
<circle class="y" cx="98.5" cy="177.9" r="1.81"/>
<circle class="r" cx="101.8" cy="179.5" r="1.89"/>
<circle class="n" cx="96.8" cy="180.4" r="1.60"/>
<circle class="n" cx="106.7" cy="179.5" r="1.60"/>
<circle class="y" cx="109.2" cy="177.9" r="1.81"/>
<circle class="n" cx="112.5" cy="179.5" r="1.60"/>
<circle class="y" cx="114.9" cy="177.1" r="1.81"/>
<circle class="y" cx="119.9" cy="179.5" r="1.81"/>
<circle class="n" cx="123.2" cy="177.9" r="1.60"/>
<circle class="n" cx="82.8" cy="181.2" r="1.60"/>
<circle class="n" cx="91.9" cy="182.8" r="1.60"/>
<circle class="y" cx="108.4" cy="182.8" r="1.81"/>
<circle class="y" cx="111.6" cy="183.6" r="1.81"/>
<circle class="y" cx="115.8" cy="182.8" r="1.81"/>
<circle class="n" cx="121.5" cy="182.8" r="1.60"/>
<circle class="y" cx="120.7" cy="185.3" r="1.81"/>
<circle class="n" cx="117.4" cy="184.5" r="1.60"/>
<circle class="r" cx="85.3" cy="183.6" r="1.89"/>
<circle class="n" cx="86.9" cy="187.8" r="1.60"/>
<circle class="r" cx="84.5" cy="190.2" r="1.89"/>
<circle class="g" cx="97.6" cy="185.3" r="1.99"/>
<circle class="y" cx="100.9" cy="186.9" r="1.81"/>
<circle class="n" cx="105.9" cy="185.3" r="1.60"/>
<circle class="y" cx="109.2" cy="186.1" r="1.81"/>
<circle class="n" cx="114.9" cy="188.6" r="1.60"/>
<circle class="n" cx="119.1" cy="186.9" r="1.60"/>
<circle class="n" cx="122.4" cy="189.4" r="1.60"/>
<circle class="n" cx="89.4" cy="191.1" r="1.60"/>
<circle class="n" cx="92.7" cy="189.4" r="1.60"/>
<circle class="y" cx="91.9" cy="192.7" r="1.81"/>
<circle class="n" cx="96.0" cy="191.1" r="1.60"/>
<circle class="y" cx="98.5" cy="192.7" r="1.81"/>
<circle class="y" cx="103.4" cy="191.1" r="1.81"/>
<circle class="n" cx="106.7" cy="190.2" r="1.60"/>
<circle class="n" cx="110.0" cy="191.1" r="1.60"/>
<circle class="n" cx="82.8" cy="192.7" r="1.60"/>
<circle class="n" cx="85.3" cy="193.5" r="1.60"/>
<circle class="n" cx="83.6" cy="196.0" r="1.60"/>
<circle class="n" cx="87.8" cy="195.2" r="1.60"/>
<circle class="g" cx="93.5" cy="196.0" r="1.99"/>
<circle class="y" cx="96.8" cy="198.5" r="2.32"/>
<circle class="n" cx="100.1" cy="195.2" r="1.60"/>
<circle class="y" cx="102.6" cy="196.8" r="1.81"/>
<circle class="n" cx="106.7" cy="197.6" r="1.60"/>
<circle class="y" cx="119.9" cy="195.2" r="1.81"/>
<circle class="n" cx="116.6" cy="193.5" r="1.60"/>
<circle class="n" cx="123.2" cy="196.0" r="1.60"/>
<circle class="n" cx="86.9" cy="199.3" r="1.60"/>
<circle class="n" cx="91.1" cy="198.5" r="1.60"/>
<circle class="n" cx="98.5" cy="200.9" r="1.60"/>
<circle class="r" cx="102.6" cy="200.1" r="1.89"/>
<circle class="y" cx="104.2" cy="200.9" r="1.81"/>
<circle class="n" cx="114.9" cy="199.3" r="1.60"/>
<circle class="n" cx="121.5" cy="199.3" r="1.60"/>
<circle class="y" cx="86.9" cy="204.2" r="1.81"/>
<circle class="y" cx="91.9" cy="205.9" r="2.92"/>
<circle class="n" cx="97.6" cy="203.4" r="1.60"/>
<circle class="y" cx="100.9" cy="203.4" r="1.81"/>
<circle class="n" cx="104.2" cy="204.2" r="1.60"/>
<circle class="n" cx="106.7" cy="208.4" r="1.60"/>
<circle class="n" cx="98.5" cy="208.4" r="1.60"/>
<circle class="g" cx="84.5" cy="207.5" r="1.99"/>
<circle class="r" cx="113.3" cy="205.1" r="1.89"/>
<circle class="n" cx="111.6" cy="207.5" r="1.60"/>
<circle class="n" cx="118.2" cy="203.4" r="1.60"/>
<circle class="n" cx="122.4" cy="206.7" r="1.60"/>
<circle class="n" cx="125.6" cy="169.6" r="1.60"/>
<circle class="y" cx="131.4" cy="174.6" r="1.81"/>
<circle class="n" cx="133.9" cy="171.3" r="1.60"/>
<circle class="n" cx="136.4" cy="176.2" r="1.60"/>
<circle class="n" cx="139.6" cy="170.5" r="1.60"/>
<circle class="y" cx="141.3" cy="171.3" r="1.81"/>
<circle class="g" cx="144.6" cy="169.6" r="1.99"/>
<circle class="n" cx="148.7" cy="169.6" r="1.60"/>
<circle class="y" cx="156.1" cy="170.5" r="2.32"/>
<circle class="n" cx="152.8" cy="172.1" r="1.60"/>
<circle class="y" cx="159.4" cy="172.1" r="1.81"/>
<circle class="y" cx="163.5" cy="173.8" r="2.32"/>
<circle class="n" cx="158.6" cy="168.8" r="1.60"/>
<circle class="c" cx="147.9" cy="176.2" r="1.85"/>
<circle class="n" cx="151.2" cy="173.8" r="1.60"/>
<circle class="c" cx="153.6" cy="175.4" r="1.85"/>
<circle class="n" cx="144.6" cy="175.4" r="1.60"/>
<circle class="g" cx="139.6" cy="175.4" r="1.99"/>
<circle class="n" cx="128.9" cy="174.6" r="1.60"/>
<circle class="y" cx="133.9" cy="173.8" r="1.81"/>
<circle class="n" cx="124.8" cy="180.4" r="1.60"/>
<circle class="r" cx="127.3" cy="179.5" r="1.44"/>
<circle class="n" cx="130.6" cy="178.7" r="1.60"/>
<circle class="y" cx="128.9" cy="184.5" r="1.81"/>
<circle class="g" cx="127.3" cy="184.5" r="1.99"/>
<circle class="n" cx="133.9" cy="181.2" r="1.60"/>
<circle class="n" cx="137.2" cy="182.0" r="1.60"/>
<circle class="n" cx="140.5" cy="179.5" r="1.60"/>
<circle class="n" cx="144.6" cy="180.4" r="1.60"/>
<circle class="c" cx="152.8" cy="179.5" r="1.85"/>
<circle class="y" cx="155.3" cy="177.9" r="1.81"/>
<circle class="y" cx="159.4" cy="177.1" r="2.32"/>
<circle class="n" cx="163.5" cy="177.9" r="1.60"/>
<circle class="n" cx="150.4" cy="182.8" r="1.60"/>
<circle class="n" cx="156.9" cy="182.0" r="1.60"/>
<circle class="n" cx="161.9" cy="183.6" r="1.60"/>
<circle class="y" cx="164.4" cy="182.8" r="1.81"/>
<circle class="n" cx="124.8" cy="187.8" r="1.60"/>
<circle class="n" cx="128.1" cy="186.9" r="1.60"/>
<circle class="r" cx="134.7" cy="187.8" r="1.89"/>
<circle class="n" cx="131.4" cy="189.4" r="1.60"/>
<circle class="n" cx="138.0" cy="186.1" r="1.60"/>
<circle class="n" cx="141.3" cy="188.6" r="1.60"/>
<circle class="c" cx="145.4" cy="188.6" r="1.85"/>
<circle class="c" cx="151.2" cy="186.9" r="1.85"/>
<circle class="g" cx="152.8" cy="189.4" r="1.52"/>
<circle class="n" cx="156.9" cy="186.9" r="1.60"/>
<circle class="y" cx="161.1" cy="186.1" r="1.81"/>
<circle class="y" cx="164.4" cy="186.9" r="1.81"/>
<circle class="n" cx="158.6" cy="190.2" r="1.60"/>
<circle class="y" cx="160.2" cy="192.7" r="1.81"/>
<circle class="n" cx="163.5" cy="191.1" r="1.60"/>
<circle class="n" cx="127.3" cy="191.9" r="1.60"/>
<circle class="n" cx="133.9" cy="192.7" r="1.60"/>
<circle class="y" cx="145.4" cy="193.5" r="1.81"/>
<circle class="c" cx="148.7" cy="194.4" r="1.85"/>
<circle class="y" cx="152.0" cy="192.7" r="1.81"/>
<circle class="n" cx="138.8" cy="192.7" r="1.60"/>
<circle class="n" cx="142.1" cy="191.9" r="1.60"/>
<circle class="n" cx="125.6" cy="196.0" r="1.60"/>
<circle class="n" cx="129.8" cy="195.2" r="1.60"/>
<circle class="n" cx="133.1" cy="197.6" r="1.60"/>
<circle class="n" cx="137.2" cy="196.0" r="1.60"/>
<circle class="n" cx="140.5" cy="197.6" r="1.60"/>
<circle class="n" cx="144.6" cy="196.8" r="1.60"/>
<circle class="c" cx="152.0" cy="197.6" r="1.85"/>
<circle class="n" cx="155.3" cy="196.0" r="1.60"/>
<circle class="n" cx="159.4" cy="196.8" r="1.60"/>
<circle class="n" cx="163.5" cy="196.0" r="1.60"/>
<circle class="n" cx="127.3" cy="200.1" r="1.60"/>
<circle class="y" cx="136.4" cy="200.1" r="1.81"/>
<circle class="n" cx="143.8" cy="200.1" r="1.60"/>
<circle class="n" cx="148.7" cy="199.3" r="1.60"/>
<circle class="n" cx="152.8" cy="200.9" r="1.60"/>
<circle class="n" cx="157.8" cy="200.1" r="1.60"/>
<circle class="n" cx="164.4" cy="200.9" r="1.60"/>
<circle class="y" cx="135.5" cy="203.4" r="1.81"/>
<circle class="y" cx="141.3" cy="202.6" r="1.81"/>
<circle class="n" cx="138.8" cy="201.8" r="1.60"/>
<circle class="n" cx="145.4" cy="203.4" r="1.60"/>
<circle class="n" cx="125.6" cy="204.2" r="1.60"/>
<circle class="n" cx="129.8" cy="205.9" r="1.60"/>
<circle class="n" cx="128.1" cy="208.4" r="1.60"/>
<circle class="n" cx="137.2" cy="207.5" r="1.60"/>
<circle class="n" cx="142.9" cy="206.7" r="1.60"/>
<circle class="n" cx="148.7" cy="205.9" r="1.60"/>
<circle class="n" cx="152.8" cy="204.2" r="1.60"/>
<circle class="n" cx="156.9" cy="205.1" r="1.60"/>
<circle class="n" cx="161.9" cy="203.4" r="1.60"/>
<circle class="n" cx="163.5" cy="207.5" r="1.60"/>
<circle class="n" cx="157.8" cy="209.2" r="1.60"/>
<circle class="y" cx="170.9" cy="169.6" r="1.81"/>
<circle class="y" cx="175.9" cy="170.5" r="1.81"/>
<circle class="n" cx="167.6" cy="171.3" r="1.60"/>
<circle class="n" cx="173.4" cy="172.9" r="1.60"/>
<circle class="y" cx="172.6" cy="175.4" r="2.32"/>
<circle class="y" cx="179.2" cy="173.8" r="1.81"/>
<circle class="n" cx="181.6" cy="169.6" r="1.60"/>
<circle class="n" cx="185.8" cy="168.8" r="1.60"/>
<circle class="y" cx="187.4" cy="171.3" r="1.81"/>
<circle class="n" cx="191.5" cy="170.5" r="1.60"/>
<circle class="y" cx="197.3" cy="170.5" r="1.81"/>
<circle class="n" cx="202.2" cy="169.6" r="1.60"/>
<circle class="n" cx="205.5" cy="172.9" r="1.60"/>
<circle class="n" cx="182.5" cy="172.9" r="1.60"/>
<circle class="n" cx="184.9" cy="175.4" r="1.60"/>
<circle class="n" cx="198.9" cy="173.8" r="1.60"/>
<circle class="n" cx="203.9" cy="176.2" r="1.60"/>
<circle class="y" cx="174.2" cy="178.7" r="2.32"/>
<circle class="y" cx="177.5" cy="180.4" r="2.32"/>
<circle class="y" cx="180.0" cy="177.1" r="1.81"/>
<circle class="n" cx="167.6" cy="179.5" r="1.60"/>
<circle class="y" cx="166.8" cy="184.5" r="1.81"/>
<circle class="n" cx="170.9" cy="181.2" r="1.60"/>
<circle class="y" cx="183.3" cy="182.8" r="1.81"/>
<circle class="n" cx="185.8" cy="178.7" r="1.60"/>
<circle class="g" cx="190.7" cy="180.4" r="1.99"/>
<circle class="g" cx="192.4" cy="177.9" r="1.52"/>
<circle class="n" cx="195.6" cy="180.4" r="1.60"/>
<circle class="n" cx="198.9" cy="182.0" r="1.60"/>
<circle class="y" cx="205.5" cy="179.5" r="1.81"/>
<circle class="n" cx="205.5" cy="183.6" r="1.60"/>
<circle class="n" cx="187.4" cy="183.6" r="1.60"/>
<circle class="y" cx="175.9" cy="187.8" r="1.81"/>
<circle class="y" cx="179.2" cy="186.9" r="1.81"/>
<circle class="n" cx="169.3" cy="188.6" r="1.60"/>
<circle class="n" cx="172.6" cy="186.9" r="1.60"/>
<circle class="n" cx="183.3" cy="186.9" r="1.60"/>
<circle class="n" cx="187.4" cy="186.9" r="1.60"/>
<circle class="y" cx="189.1" cy="189.4" r="1.81"/>
<circle class="y" cx="192.4" cy="188.6" r="1.81"/>
<circle class="y" cx="196.5" cy="187.8" r="1.81"/>
<circle class="y" cx="199.8" cy="189.4" r="1.81"/>
<circle class="n" cx="203.1" cy="187.8" r="1.60"/>
<circle class="n" cx="206.4" cy="187.8" r="2.05"/>
<circle class="n" cx="168.5" cy="191.9" r="1.60"/>
<circle class="n" cx="174.2" cy="191.9" r="1.60"/>
<circle class="n" cx="179.2" cy="191.1" r="1.60"/>
<circle class="n" cx="185.8" cy="191.1" r="1.60"/>
<circle class="n" cx="192.4" cy="191.9" r="1.60"/>
<circle class="n" cx="197.3" cy="191.1" r="1.60"/>
<circle class="n" cx="201.4" cy="191.9" r="1.60"/>
<circle class="n" cx="167.6" cy="196.0" r="1.60"/>
<circle class="n" cx="172.6" cy="196.0" r="1.60"/>
<circle class="n" cx="176.7" cy="194.4" r="1.60"/>
<circle class="n" cx="180.8" cy="196.0" r="1.60"/>
<circle class="n" cx="175.9" cy="198.5" r="2.05"/>
<circle class="n" cx="180.0" cy="199.3" r="1.60"/>
<circle class="n" cx="189.1" cy="198.5" r="1.60"/>
<circle class="n" cx="196.5" cy="194.4" r="1.60"/>
<circle class="n" cx="198.9" cy="196.8" r="1.60"/>
<circle class="n" cx="206.4" cy="196.8" r="1.60"/>
<circle class="y" cx="167.6" cy="203.4" r="1.81"/>
<circle class="y" cx="172.6" cy="201.8" r="1.81"/>
<circle class="y" cx="170.1" cy="200.1" r="1.81"/>
<circle class="n" cx="184.1" cy="200.1" r="1.60"/>
<circle class="y" cx="185.8" cy="201.8" r="1.81"/>
<circle class="n" cx="193.2" cy="202.6" r="2.05"/>
<circle class="n" cx="194.8" cy="203.4" r="1.60"/>
<circle class="n" cx="205.5" cy="200.9" r="1.60"/>
<circle class="y" cx="170.1" cy="206.7" r="1.81"/>
<circle class="n" cx="174.2" cy="205.1" r="1.60"/>
<circle class="n" cx="180.0" cy="204.2" r="1.60"/>
<circle class="n" cx="177.5" cy="208.4" r="1.60"/>
<circle class="n" cx="184.1" cy="207.5" r="1.60"/>
<circle class="n" cx="188.2" cy="205.1" r="1.60"/>
<circle class="n" cx="190.7" cy="203.4" r="1.60"/>
<circle class="n" cx="198.9" cy="205.1" r="1.60"/>
<circle class="n" cx="203.1" cy="207.5" r="1.60"/>
<circle class="n" cx="167.6" cy="208.4" r="1.60"/>
<circle class="y" cx="209.6" cy="172.9" r="1.81"/>
<circle class="n" cx="212.1" cy="169.6" r="1.60"/>
<circle class="n" cx="215.4" cy="172.1" r="1.60"/>
<circle class="g" cx="220.4" cy="170.5" r="1.52"/>
<circle class="n" cx="223.6" cy="168.8" r="1.60"/>
<circle class="n" cx="226.1" cy="172.1" r="1.60"/>
<circle class="n" cx="230.2" cy="171.3" r="1.60"/>
<circle class="n" cx="234.4" cy="169.6" r="1.60"/>
<circle class="y" cx="237.6" cy="169.6" r="1.81"/>
<circle class="n" cx="240.9" cy="172.1" r="1.60"/>
<circle class="y" cx="246.7" cy="171.3" r="1.81"/>
<circle class="n" cx="244.2" cy="168.8" r="1.60"/>
<circle class="n" cx="249.2" cy="172.9" r="1.60"/>
<circle class="n" cx="217.9" cy="173.8" r="1.60"/>
<circle class="y" cx="218.7" cy="176.2" r="1.81"/>
<circle class="y" cx="222.0" cy="178.7" r="1.81"/>
<circle class="n" cx="214.6" cy="176.2" r="1.60"/>
<circle class="n" cx="229.4" cy="176.2" r="1.60"/>
<circle class="n" cx="233.5" cy="174.6" r="1.60"/>
<circle class="n" cx="238.5" cy="175.4" r="1.60"/>
<circle class="n" cx="242.6" cy="175.4" r="1.60"/>
<circle class="n" cx="247.5" cy="176.2" r="1.60"/>
<circle class="n" cx="225.3" cy="179.5" r="1.60"/>
<circle class="n" cx="228.6" cy="178.7" r="1.60"/>
<circle class="n" cx="232.7" cy="181.2" r="1.60"/>
<circle class="n" cx="236.8" cy="179.5" r="1.60"/>
<circle class="n" cx="240.9" cy="180.4" r="1.60"/>
<circle class="n" cx="245.1" cy="179.5" r="1.60"/>
<circle class="n" cx="248.4" cy="181.2" r="1.60"/>
<circle class="n" cx="211.3" cy="184.5" r="1.60"/>
<circle class="n" cx="214.6" cy="185.3" r="1.60"/>
<circle class="n" cx="217.9" cy="184.5" r="1.60"/>
<circle class="n" cx="226.1" cy="184.5" r="1.60"/>
<circle class="n" cx="229.4" cy="182.8" r="1.60"/>
<circle class="n" cx="237.6" cy="184.5" r="1.60"/>
<circle class="n" cx="240.9" cy="185.3" r="1.60"/>
<circle class="n" cx="246.7" cy="183.6" r="1.60"/>
<circle class="n" cx="229.4" cy="187.8" r="1.60"/>
<circle class="n" cx="233.5" cy="189.4" r="1.60"/>
<circle class="n" cx="237.6" cy="188.6" r="1.60"/>
<circle class="n" cx="243.4" cy="186.9" r="1.60"/>
<circle class="n" cx="209.6" cy="192.7" r="1.60"/>
<circle class="n" cx="216.2" cy="192.7" r="1.60"/>
<circle class="n" cx="228.6" cy="191.9" r="1.60"/>
<circle class="n" cx="232.7" cy="193.5" r="1.60"/>
<circle class="n" cx="236.8" cy="191.1" r="1.60"/>
<circle class="n" cx="211.3" cy="195.2" r="1.60"/>
<circle class="n" cx="217.1" cy="195.2" r="1.60"/>
<circle class="n" cx="224.5" cy="197.6" r="1.60"/>
<circle class="n" cx="223.6" cy="200.1" r="1.60"/>
<circle class="n" cx="229.4" cy="196.8" r="1.60"/>
<circle class="n" cx="236.8" cy="197.6" r="1.60"/>
<circle class="n" cx="208.8" cy="199.3" r="1.60"/>
<circle class="g" cx="211.3" cy="199.0" r="1.52"/>
<circle class="n" cx="237.6" cy="202.6" r="1.60"/>
<circle class="n" cx="208.8" cy="203.4" r="1.60"/>
<circle class="n" cx="215.4" cy="206.7" r="1.60"/>
<circle class="n" cx="233.5" cy="207.5" r="1.60"/>
<circle class="n" cx="238.5" cy="206.7" r="1.60"/>
<circle class="n" cx="250.8" cy="169.6" r="1.60"/>
<circle class="n" cx="253.3" cy="172.1" r="1.60"/>
<circle class="n" cx="251.6" cy="176.2" r="1.60"/>
<circle class="n" cx="253.3" cy="180.4" r="1.60"/>
<circle class="n" cx="250.8" cy="183.6" r="1.60"/>
<circle class="n" cx="256.6" cy="168.8" r="1.60"/>
<circle class="n" cx="257.4" cy="172.1" r="1.60"/>
<circle class="n" cx="259.9" cy="179.5" r="1.60"/>
<circle class="n" cx="263.2" cy="176.2" r="1.60"/>
<circle class="n" cx="262.4" cy="169.6" r="1.60"/>
<circle class="y" cx="264.8" cy="172.1" r="1.81"/>
<circle class="y" cx="268.1" cy="171.3" r="1.81"/>
<circle class="n" cx="266.5" cy="175.4" r="1.60"/>
<circle class="n" cx="269.8" cy="173.8" r="1.60"/>
<circle class="n" cx="267.3" cy="178.7" r="1.60"/>
<circle class="y" cx="272.2" cy="176.2" r="1.81"/>
<circle class="n" cx="271.4" cy="179.5" r="1.60"/>
<circle class="n" cx="274.7" cy="174.6" r="1.60"/>
<circle class="y" cx="278.0" cy="175.4" r="1.81"/>
<circle class="n" cx="273.9" cy="169.6" r="1.60"/>
<circle class="n" cx="278.8" cy="169.6" r="1.60"/>
<circle class="n" cx="282.1" cy="171.3" r="1.60"/>
<circle class="n" cx="290.4" cy="172.1" r="1.60"/>
<circle class="n" cx="275.5" cy="182.8" r="1.60"/>
<circle class="n" cx="282.9" cy="184.5" r="1.60"/>
<circle class="n" cx="268.1" cy="185.3" r="1.60"/>
<circle class="n" cx="259.1" cy="191.4" r="2.05"/>
<circle class="n" cx="266.5" cy="198.5" r="1.60"/>
<circle class="n" cx="298.6" cy="168.8" r="1.60"/>
<circle class="n" cx="301.1" cy="169.6" r="1.60"/>
<circle class="n" cx="305.2" cy="172.9" r="1.60"/>
<circle class="n" cx="308.5" cy="175.4" r="1.60"/>
<circle class="n" cx="308.5" cy="177.9" r="1.60"/>
<circle class="n" cx="307.6" cy="179.5" r="1.60"/>
<circle class="n" cx="308.5" cy="182.0" r="1.60"/>
<circle class="n" cx="312.6" cy="168.8" r="1.60"/>
<circle class="n" cx="313.4" cy="172.9" r="1.60"/>
<circle class="n" cx="315.1" cy="174.6" r="1.60"/>
<circle class="n" cx="313.4" cy="177.1" r="1.60"/>
<circle class="n" cx="316.7" cy="173.8" r="1.60"/>
<circle class="n" cx="320.0" cy="172.9" r="1.60"/>
<circle class="n" cx="322.5" cy="168.8" r="1.60"/>
<circle class="n" cx="323.3" cy="181.2" r="1.60"/>
<circle class="n" cx="296.6" cy="189.4" r="1.60"/>
<circle class="n" cx="305.5" cy="189.1" r="1.60"/>
<circle class="n" cx="315.1" cy="188.1" r="1.60"/>
<circle class="n" cx="305.2" cy="195.7" r="1.60"/>
<circle class="n" cx="305.2" cy="200.1" r="1.60"/>
<circle class="n" cx="320.0" cy="193.5" r="1.60"/>
<circle class="n" cx="338.9" cy="194.0" r="1.60"/>
<circle class="n" cx="340.6" cy="194.0" r="1.60"/>
<circle class="n" cx="50.0" cy="207.0" r="1.60"/>
<circle class="n" cx="61.0" cy="207.4" r="1.60"/>
<circle class="n" cx="52.0" cy="214.0" r="1.60"/>
<circle class="n" cx="58.0" cy="213.0" r="1.60"/>
<circle class="n" cx="64.0" cy="212.0" r="1.60"/>
<circle class="n" cx="56.0" cy="222.0" r="1.60"/>
<circle class="n" cx="60.0" cy="220.0" r="1.60"/>
<circle class="n" cx="63.0" cy="219.0" r="1.60"/>
<circle class="n" cx="65.0" cy="225.0" r="1.60"/>
<circle class="n" cx="59.0" cy="229.0" r="1.60"/>
<circle class="n" cx="68.0" cy="226.0" r="1.60"/>
<circle class="n" cx="73.0" cy="209.0" r="1.60"/>
<circle class="r" cx="77.0" cy="210.0" r="1.44"/>
<circle class="n" cx="76.0" cy="214.0" r="1.60"/>
<circle class="n" cx="78.0" cy="216.0" r="1.60"/>
<circle class="n" cx="74.0" cy="215.0" r="1.60"/>
<circle class="n" cx="77.0" cy="222.0" r="1.60"/>
<circle class="n" cx="80.0" cy="227.0" r="1.60"/>
<circle class="n" cx="83.0" cy="226.0" r="1.60"/>
<circle class="r" cx="73.0" cy="230.0" r="1.89"/>
<circle class="n" cx="71.0" cy="228.0" r="1.60"/>
<circle class="n" cx="82.0" cy="205.0" r="1.60"/>
<circle class="n" cx="88.0" cy="209.0" r="1.60"/>
<circle class="y" cx="88.0" cy="205.0" r="1.81"/>
<circle class="y" cx="92.0" cy="206.0" r="2.92"/>
<circle class="y" cx="94.0" cy="210.0" r="1.81"/>
<circle class="y" cx="90.0" cy="210.0" r="1.81"/>
<circle class="y" cx="88.0" cy="216.0" r="1.81"/>
<circle class="y" cx="91.0" cy="219.0" r="1.81"/>
<circle class="y" cx="93.0" cy="221.0" r="1.81"/>
<circle class="y" cx="94.0" cy="225.0" r="1.81"/>
<circle class="n" cx="93.0" cy="230.0" r="1.60"/>
<circle class="n" cx="98.0" cy="230.0" r="1.60"/>
<circle class="n" cx="97.0" cy="226.0" r="1.60"/>
<circle class="n" cx="98.0" cy="221.0" r="1.60"/>
<circle class="n" cx="97.0" cy="216.0" r="1.60"/>
<circle class="n" cx="100.0" cy="212.0" r="1.60"/>
<circle class="g" cx="100.0" cy="208.0" r="1.99"/>
<circle class="g" cx="105.0" cy="208.0" r="1.99"/>
<circle class="n" cx="103.0" cy="214.0" r="1.60"/>
<circle class="n" cx="108.0" cy="219.0" r="1.60"/>
<circle class="r" cx="102.0" cy="201.0" r="1.44"/>
<circle class="y" cx="101.0" cy="203.0" r="1.81"/>
<circle class="n" cx="86.0" cy="220.0" r="1.60"/>
<circle class="n" cx="87.0" cy="224.0" r="1.60"/>
<circle class="r" cx="113.0" cy="205.0" r="1.89"/>
<circle class="n" cx="116.0" cy="202.0" r="1.60"/>
<circle class="n" cx="120.0" cy="201.0" r="1.60"/>
<circle class="n" cx="119.0" cy="208.0" r="1.60"/>
<circle class="n" cx="122.0" cy="205.0" r="1.60"/>
<circle class="n" cx="125.0" cy="202.0" r="1.60"/>
<circle class="n" cx="128.0" cy="201.0" r="1.60"/>
<circle class="n" cx="127.0" cy="207.0" r="1.60"/>
<circle class="n" cx="124.0" cy="211.0" r="1.60"/>
<circle class="n" cx="129.0" cy="210.0" r="1.60"/>
<circle class="n" cx="121.0" cy="214.0" r="1.60"/>
<circle class="n" cx="118.0" cy="216.0" r="1.60"/>
<circle class="n" cx="116.0" cy="220.0" r="1.60"/>
<circle class="n" cx="121.0" cy="223.0" r="1.60"/>
<circle class="n" cx="126.0" cy="218.0" r="1.60"/>
<circle class="n" cx="130.0" cy="215.0" r="1.60"/>
<circle class="n" cx="134.0" cy="214.0" r="1.60"/>
<circle class="n" cx="126.0" cy="227.0" r="1.60"/>
<circle class="n" cx="130.0" cy="224.0" r="1.60"/>
<circle class="n" cx="132.0" cy="225.0" r="1.60"/>
<circle class="n" cx="114.0" cy="229.6" r="1.60"/>
<circle class="n" cx="137.0" cy="221.0" r="1.60"/>
<circle class="n" cx="140.0" cy="226.0" r="1.60"/>
<circle class="n" cx="147.0" cy="216.0" r="1.60"/>
<circle class="n" cx="150.0" cy="212.0" r="1.60"/>
<circle class="y" cx="136.0" cy="203.0" r="1.81"/>
<circle class="y" cx="140.0" cy="202.0" r="1.81"/>
<circle class="n" cx="134.0" cy="205.0" r="1.60"/>
<circle class="c" cx="147.0" cy="202.0" r="1.85"/>
<circle class="n" cx="143.0" cy="205.0" r="1.60"/>
<circle class="y" cx="138.0" cy="212.0" r="1.81"/>
<circle class="y" cx="141.0" cy="211.0" r="1.81"/>
<circle class="n" cx="138.0" cy="208.0" r="1.60"/>
<circle class="n" cx="142.0" cy="208.0" r="1.60"/>
<circle class="n" cx="156.0" cy="205.0" r="1.60"/>
<circle class="n" cx="161.0" cy="202.0" r="1.60"/>
<circle class="n" cx="164.0" cy="206.0" r="1.60"/>
<circle class="y" cx="167.0" cy="204.0" r="1.81"/>
<circle class="y" cx="170.0" cy="206.0" r="1.81"/>
<circle class="y" cx="173.0" cy="202.0" r="1.81"/>
<circle class="n" cx="176.0" cy="204.0" r="1.60"/>
<circle class="n" cx="158.0" cy="213.0" r="1.60"/>
<circle class="n" cx="162.0" cy="212.0" r="1.60"/>
<circle class="n" cx="165.0" cy="212.0" r="1.60"/>
<circle class="n" cx="168.0" cy="214.0" r="1.60"/>
<circle class="n" cx="172.0" cy="217.0" r="1.60"/>
<circle class="n" cx="154.0" cy="218.0" r="1.60"/>
<circle class="n" cx="157.0" cy="219.0" r="1.60"/>
<circle class="n" cx="156.0" cy="231.0" r="1.60"/>
<circle class="n" cx="178.0" cy="201.0" r="1.60"/>
<circle class="y" cx="185.0" cy="202.0" r="1.81"/>
<circle class="n" cx="182.0" cy="204.0" r="1.60"/>
<circle class="n" cx="181.0" cy="207.0" r="1.60"/>
<circle class="n" cx="193.0" cy="204.0" r="2.05"/>
<circle class="n" cx="195.0" cy="203.0" r="1.60"/>
<circle class="n" cx="208.0" cy="204.0" r="1.60"/>
<circle class="n" cx="209.0" cy="209.0" r="1.60"/>
<circle class="n" cx="204.0" cy="207.0" r="1.60"/>
<circle class="n" cx="216.0" cy="207.0" r="1.60"/>
<circle class="n" cx="213.0" cy="213.0" r="1.60"/>
<circle class="n" cx="224.0" cy="201.0" r="1.60"/>
<circle class="n" cx="237.0" cy="203.0" r="1.60"/>
<circle class="n" cx="234.0" cy="209.0" r="2.05"/>
<circle class="n" cx="238.0" cy="207.0" r="1.60"/>
<circle class="n" cx="238.0" cy="212.0" r="1.60"/>
<circle class="n" cx="200.0" cy="224.4" r="1.60"/>
<circle class="n" cx="222.0" cy="221.0" r="1.60"/>
<circle class="n" cx="221.0" cy="225.6" r="1.60"/>
<circle class="n" cx="217.0" cy="230.0" r="1.60"/>
<circle class="g" cx="78.1" cy="86.4" r="1.71"/>
<circle class="g" cx="107.0" cy="81.2" r="1.90"/>
<circle class="g" cx="105.9" cy="83.5" r="1.90"/>
<circle class="g" cx="104.0" cy="85.2" r="1.90"/>
<circle class="g" cx="100.7" cy="89.4" r="1.90"/>
<circle class="g" cx="99.3" cy="91.8" r="1.90"/>
<circle class="g" cx="98.8" cy="94.1" r="1.90"/>
<circle class="g" cx="98.8" cy="96.5" r="1.90"/>
<circle class="g" cx="98.4" cy="98.8" r="1.90"/>
<circle class="g" cx="98.4" cy="101.6" r="1.90"/>
<circle class="g" cx="87.8" cy="98.8" r="1.71"/>
<circle class="n" cx="114.8" cy="98.4" r="1.44"/>
<circle class="n" cx="117.6" cy="101.6" r="1.44"/>
<circle class="g" cx="110.6" cy="101.6" r="1.71"/>
<circle class="g" cx="110.6" cy="103.5" r="1.71"/>
<circle class="g" cx="86.6" cy="109.9" r="1.71"/>
<circle class="y" cx="116.5" cy="107.0" r="1.55"/>
<circle class="n" cx="96.5" cy="115.3" r="1.37"/>
<circle class="g" cx="81.2" cy="118.8" r="1.71"/>
<circle class="g" cx="110.6" cy="114.0" r="1.71"/>
<circle class="g" cx="108.2" cy="117.6" r="1.71"/>
<circle class="g" cx="105.9" cy="121.2" r="1.71"/>
<circle class="g" cx="104.5" cy="122.5" r="1.71"/>
<circle class="g" cx="117.6" cy="121.2" r="1.71"/>
<circle class="r" cx="118.8" cy="117.2" r="1.62"/>
<circle class="n" cx="41.2" cy="120.5" r="1.67"/>
<circle class="r" cx="134.1" cy="92.7" r="1.89"/>
<circle class="n" cx="132.7" cy="97.6" r="1.60"/>
<circle class="n" cx="129.4" cy="101.2" r="1.60"/>
<circle class="g" cx="130.8" cy="103.5" r="1.99"/>
<circle class="n" cx="137.6" cy="102.0" r="1.60"/>
<circle class="r" cx="145.5" cy="97.3" r="1.89"/>
<circle class="n" cx="145.5" cy="99.2" r="1.60"/>
<circle class="r" cx="128.2" cy="107.1" r="1.89"/>
<circle class="n" cx="147.5" cy="104.5" r="1.60"/>
<circle class="n" cx="150.4" cy="104.5" r="1.60"/>
<circle class="c" cx="152.4" cy="90.8" r="2.38"/>
<circle class="g" cx="153.3" cy="84.3" r="1.99"/>
<circle class="n" cx="157.3" cy="84.9" r="1.60"/>
<circle class="y" cx="163.5" cy="88.8" r="2.32"/>
<circle class="g" cx="156.3" cy="87.8" r="1.99"/>
<circle class="n" cx="158.2" cy="87.8" r="1.60"/>
<circle class="y" cx="160.2" cy="94.1" r="2.32"/>
<circle class="n" cx="167.1" cy="95.7" r="1.60"/>
<circle class="c" cx="156.3" cy="100.6" r="2.38"/>
<circle class="g" cx="151.4" cy="99.6" r="1.99"/>
<circle class="c" cx="164.1" cy="99.2" r="1.85"/>
<circle class="y" cx="167.1" cy="101.6" r="1.81"/>
<circle class="y" cx="166.1" cy="104.5" r="1.81"/>
<circle class="g" cx="160.2" cy="105.5" r="1.99"/>
<circle class="n" cx="163.1" cy="106.5" r="1.60"/>
<circle class="y" cx="169.0" cy="107.5" r="1.81"/>
<circle class="y" cx="149.8" cy="111.0" r="2.32"/>
<circle class="n" cx="160.2" cy="111.4" r="1.60"/>
<circle class="y" cx="152.4" cy="114.9" r="2.32"/>
<circle class="n" cx="128.8" cy="116.3" r="1.60"/>
<circle class="n" cx="151.4" cy="117.3" r="1.60"/>
<circle class="y" cx="169.0" cy="114.9" r="1.81"/>
<circle class="y" cx="122.4" cy="119.2" r="1.38"/>
<circle class="g" cx="143.1" cy="119.8" r="1.99"/>
<circle class="n" cx="137.6" cy="122.2" r="1.60"/>
<circle class="g" cx="143.5" cy="122.2" r="1.99"/>
<circle class="r" cx="146.5" cy="120.2" r="1.89"/>
<circle class="n" cx="152.4" cy="123.1" r="1.60"/>
<circle class="n" cx="158.2" cy="122.7" r="1.60"/>
<circle class="y" cx="161.2" cy="120.2" r="1.81"/>
<circle class="g" cx="164.1" cy="121.2" r="1.99"/>
<circle class="r" cx="161.2" cy="123.5" r="1.89"/>
<circle class="n" cx="166.1" cy="123.1" r="1.60"/>
<circle class="n" cx="139.6" cy="126.1" r="1.60"/>
<circle class="n" cx="121.0" cy="127.1" r="1.60"/>
<circle class="n" cx="192.0" cy="83.5" r="1.60"/>
<circle class="g" cx="171.0" cy="96.7" r="1.52"/>
<circle class="g" cx="172.9" cy="97.6" r="1.52"/>
<circle class="g" cx="174.9" cy="98.6" r="1.52"/>
<circle class="g" cx="171.0" cy="99.6" r="1.52"/>
<circle class="g" cx="173.9" cy="100.6" r="1.52"/>
<circle class="g" cx="175.9" cy="101.6" r="1.52"/>
<circle class="g" cx="172.0" cy="102.5" r="1.52"/>
<circle class="g" cx="174.9" cy="103.5" r="1.52"/>
<circle class="g" cx="171.0" cy="105.1" r="1.52"/>
<circle class="g" cx="173.9" cy="105.5" r="1.52"/>
<circle class="g" cx="175.9" cy="105.1" r="1.52"/>
<circle class="r" cx="171.0" cy="95.3" r="1.44"/>
<circle class="n" cx="187.6" cy="97.3" r="1.60"/>
<circle class="r" cx="188.0" cy="101.6" r="1.89"/>
<circle class="g" cx="185.3" cy="101.6" r="1.52"/>
<circle class="n" cx="186.7" cy="103.5" r="1.60"/>
<circle class="n" cx="200.4" cy="101.6" r="1.60"/>
<circle class="n" cx="215.5" cy="93.3" r="1.60"/>
<circle class="r" cx="212.7" cy="98.6" r="1.89"/>
<circle class="y" cx="192.5" cy="106.5" r="2.32"/>
<circle class="n" cx="195.1" cy="105.1" r="1.60"/>
<circle class="r" cx="201.8" cy="107.8" r="1.89"/>
<circle class="y" cx="210.2" cy="105.1" r="1.81"/>
<circle class="r" cx="210.8" cy="107.1" r="1.89"/>
<circle class="n" cx="208.2" cy="105.5" r="1.60"/>
<circle class="n" cx="218.6" cy="103.1" r="1.60"/>
<circle class="y" cx="185.3" cy="110.4" r="2.32"/>
<circle class="y" cx="188.6" cy="111.8" r="1.81"/>
<circle class="r" cx="190.6" cy="114.3" r="1.89"/>
<circle class="n" cx="185.7" cy="114.3" r="1.60"/>
<circle class="y" cx="171.0" cy="115.3" r="2.32"/>
<circle class="y" cx="203.3" cy="114.3" r="1.81"/>
<circle class="r" cx="200.4" cy="112.9" r="1.89"/>
<circle class="y" cx="208.2" cy="114.9" r="1.81"/>
<circle class="n" cx="207.3" cy="111.0" r="1.60"/>
<circle class="c" cx="214.7" cy="112.9" r="2.38"/>
<circle class="n" cx="216.1" cy="107.5" r="1.60"/>
<circle class="c" cx="187.3" cy="117.3" r="1.85"/>
<circle class="n" cx="184.7" cy="120.2" r="1.60"/>
<circle class="n" cx="189.6" cy="120.2" r="1.60"/>
<circle class="n" cx="193.5" cy="119.2" r="1.60"/>
<circle class="n" cx="182.7" cy="115.7" r="1.60"/>
<circle class="n" cx="194.5" cy="116.3" r="1.60"/>
<circle class="c" cx="178.8" cy="122.7" r="2.38"/>
<circle class="n" cx="199.4" cy="121.2" r="1.60"/>
<circle class="n" cx="204.3" cy="122.2" r="1.60"/>
<circle class="n" cx="207.3" cy="124.1" r="1.60"/>
<circle class="n" cx="212.2" cy="123.5" r="1.60"/>
<circle class="n" cx="216.7" cy="122.2" r="1.60"/>
<circle class="r" cx="192.5" cy="124.7" r="1.89"/>
<circle class="n" cx="172.0" cy="119.2" r="1.60"/>
<circle class="n" cx="218.6" cy="118.2" r="1.60"/>
<circle class="c" cx="304.3" cy="65.5" r="2.38"/>
<circle class="c" cx="308.8" cy="67.0" r="1.85"/>
<circle class="c" cx="299.0" cy="68.8" r="2.38"/>
<circle class="c" cx="304.3" cy="71.7" r="2.38"/>
<circle class="c" cx="317.0" cy="61.5" r="2.38"/>
<circle class="c" cx="318.0" cy="65.5" r="2.38"/>
<circle class="y" cx="301.4" cy="74.3" r="1.81"/>
<circle class="c" cx="299.0" cy="77.2" r="2.38"/>
<circle class="y" cx="294.5" cy="76.2" r="1.81"/>
<circle class="y" cx="290.6" cy="76.2" r="1.81"/>
<circle class="c" cx="282.7" cy="78.2" r="2.38"/>
<circle class="c" cx="279.8" cy="79.2" r="2.38"/>
<circle class="y" cx="277.8" cy="76.2" r="1.81"/>
<circle class="y" cx="284.7" cy="82.1" r="1.81"/>
<circle class="n" cx="271.0" cy="79.2" r="1.60"/>
<circle class="n" cx="274.9" cy="83.1" r="1.60"/>
<circle class="n" cx="272.0" cy="84.0" r="1.60"/>
<circle class="y" cx="289.6" cy="80.2" r="1.81"/>
<circle class="y" cx="294.5" cy="80.2" r="1.81"/>
<circle class="y" cx="297.5" cy="81.1" r="1.81"/>
<circle class="n" cx="295.5" cy="84.1" r="1.60"/>
<circle class="c" cx="291.6" cy="82.7" r="1.85"/>
<circle class="y" cx="303.3" cy="80.2" r="1.81"/>
<circle class="c" cx="307.3" cy="82.1" r="1.85"/>
<circle class="n" cx="301.4" cy="84.1" r="1.60"/>
<circle class="y" cx="308.2" cy="86.0" r="1.81"/>
<circle class="y" cx="317.0" cy="77.2" r="1.81"/>
<circle class="y" cx="315.0" cy="85.0" r="1.81"/>
<circle class="n" cx="311.2" cy="84.0" r="1.60"/>
<circle class="c" cx="319.0" cy="72.3" r="1.85"/>
<circle class="y" cx="321.6" cy="52.7" r="2.32"/>
<circle class="y" cx="334.9" cy="54.7" r="1.38"/>
<circle class="c" cx="319.6" cy="58.6" r="2.38"/>
<circle class="c" cx="316.7" cy="62.5" r="2.38"/>
<circle class="c" cx="321.6" cy="62.5" r="2.38"/>
<circle class="y" cx="334.9" cy="61.5" r="1.38"/>
<circle class="c" cx="303.9" cy="64.5" r="2.38"/>
<circle class="c" cx="308.8" cy="67.0" r="2.38"/>
<circle class="c" cx="317.6" cy="66.4" r="2.38"/>
<circle class="c" cx="318.6" cy="69.4" r="2.38"/>
<circle class="y" cx="326.5" cy="68.4" r="2.32"/>
<circle class="y" cx="335.3" cy="69.4" r="1.38"/>
<circle class="c" cx="302.9" cy="71.3" r="2.38"/>
<circle class="c" cx="303.9" cy="75.3" r="2.38"/>
<circle class="y" cx="318.6" cy="72.9" r="1.81"/>
<circle class="y" cx="329.4" cy="73.3" r="1.81"/>
<circle class="y" cx="331.4" cy="75.3" r="1.81"/>
<circle class="y" cx="338.2" cy="71.3" r="1.81"/>
<circle class="y" cx="340.2" cy="74.3" r="1.81"/>
<circle class="y" cx="335.3" cy="77.2" r="1.81"/>
<circle class="y" cx="344.1" cy="73.3" r="1.81"/>
<circle class="y" cx="307.8" cy="81.1" r="2.32"/>
<circle class="y" cx="317.6" cy="78.2" r="1.81"/>
<circle class="y" cx="319.6" cy="80.2" r="1.81"/>
<circle class="n" cx="326.5" cy="79.2" r="1.60"/>
<circle class="y" cx="332.4" cy="79.2" r="1.81"/>
<circle class="y" cx="339.2" cy="78.2" r="1.81"/>
<circle class="y" cx="342.2" cy="80.2" r="1.81"/>
<circle class="n" cx="323.5" cy="85.1" r="1.60"/>
<circle class="y" cx="325.5" cy="85.1" r="1.81"/>
<circle class="n" cx="336.3" cy="85.1" r="1.60"/>
<circle class="n" cx="345.1" cy="83.1" r="1.60"/>
<circle class="y" cx="344.1" cy="85.1" r="1.81"/>
<circle class="n" cx="309.8" cy="83.1" r="1.60"/>
<circle class="y" cx="218.0" cy="140.0" r="2.06"/>
<circle class="y" cx="222.0" cy="144.0" r="2.06"/>
<circle class="y" cx="226.0" cy="139.0" r="2.06"/>
<circle class="y" cx="230.0" cy="146.0" r="2.06"/>
<circle class="y" cx="219.0" cy="148.0" r="2.06"/>
<circle class="y" cx="225.0" cy="150.0" r="2.06"/>
<circle class="y" cx="233.0" cy="141.0" r="2.06"/>
<circle class="y" cx="236.0" cy="136.0" r="2.06"/>
<circle class="y" cx="229.0" cy="133.0" r="2.06"/>
<circle class="y" cx="240.0" cy="134.0" r="2.06"/>
<circle class="y" cx="214.0" cy="143.0" r="2.06"/>
<circle class="y" cx="212.0" cy="151.0" r="2.06"/>
<circle class="y" cx="244.0" cy="131.0" r="2.06"/>
<circle class="y" cx="182.0" cy="146.0" r="2.15"/>
<circle class="y" cx="187.0" cy="141.0" r="2.15"/>
<circle class="y" cx="192.0" cy="147.0" r="2.15"/>
<circle class="y" cx="197.0" cy="142.0" r="2.15"/>
<circle class="y" cx="202.0" cy="146.0" r="2.15"/>
<circle class="y" cx="185.0" cy="153.0" r="2.15"/>
<circle class="y" cx="191.0" cy="156.0" r="2.15"/>
<circle class="y" cx="198.0" cy="152.0" r="2.15"/>
<circle class="y" cx="204.0" cy="156.0" r="2.15"/>
<circle class="y" cx="181.0" cy="160.0" r="2.15"/>
<circle class="y" cx="188.0" cy="163.0" r="2.15"/>
<circle class="y" cx="195.0" cy="160.0" r="2.15"/>
<circle class="y" cx="201.0" cy="165.0" r="2.15"/>
<circle class="y" cx="207.0" cy="150.0" r="2.15"/>
<circle class="y" cx="176.0" cy="166.0" r="2.15"/>
<circle class="y" cx="170.0" cy="158.0" r="2.15"/>
<circle class="y" cx="163.0" cy="162.0" r="2.15"/>
<circle class="y" cx="172.0" cy="172.0" r="2.15"/>
<circle class="y" cx="160.0" cy="170.0" r="2.15"/>
<line x1="40.1" y1="34.0" x2="40.1" y2="231.6" stroke="#a6a6a6" stroke-width="1.6"/>
<line x1="39.300000000000004" y1="231.0" x2="347.1" y2="231.0" stroke="#8a8a8a" stroke-width="1.3"/>
<line x1="346.9" y1="34.0" x2="346.9" y2="231.6" stroke="#2e2e2e" stroke-width="1.5"/>
<line x1="39.80" y1="33.0" x2="39.80" y2="36.5" stroke="#888" stroke-width="0.8"/>
<line x1="83.80" y1="33.0" x2="83.80" y2="36.5" stroke="#888" stroke-width="0.8"/>
<line x1="127.80" y1="33.0" x2="127.80" y2="36.5" stroke="#888" stroke-width="0.8"/>
<line x1="171.80" y1="33.0" x2="171.80" y2="36.5" stroke="#888" stroke-width="0.8"/>
<line x1="215.80" y1="33.0" x2="215.80" y2="36.5" stroke="#888" stroke-width="0.8"/>
<line x1="259.80" y1="33.0" x2="259.80" y2="36.5" stroke="#888" stroke-width="0.8"/>
<line x1="303.80" y1="33.0" x2="303.80" y2="36.5" stroke="#888" stroke-width="0.8"/>
<line x1="347.80" y1="33.0" x2="347.80" y2="36.5" stroke="#888" stroke-width="0.8"/>
<g font-family="Liberation Sans, Arial, sans-serif" font-size="8.6" fill="#1a1a1a" stroke="#1a1a1a" stroke-width="0.15"><text x="39.20" y="31" text-anchor="middle">&#8722;5</text><text x="83.20" y="31" text-anchor="middle">&#8722;4</text><text x="127.20" y="31" text-anchor="middle">&#8722;3</text><text x="171.20" y="31" text-anchor="middle">&#8722;2</text><text x="215.20" y="31" text-anchor="middle">&#8722;1</text><text x="259.20" y="31" text-anchor="middle">0</text><text x="303.20" y="31" text-anchor="middle">1</text><text x="347.20" y="31" text-anchor="middle">2</text><text x="33.6" y="41.10" text-anchor="end">6</text><text x="33.6" y="65.25" text-anchor="end">5.5</text><text x="33.6" y="89.40" text-anchor="end">5</text><text x="33.6" y="113.55" text-anchor="end">4.5</text><text x="33.6" y="137.70" text-anchor="end">4</text><text x="33.6" y="161.85" text-anchor="end">3.5</text><text x="33.6" y="186.00" text-anchor="end">3</text><text x="33.6" y="210.15" text-anchor="end">2.5</text><text x="33.6" y="234.30" text-anchor="end">2</text></g>
<text x="65.9" y="9.9" font-family="Liberation Serif, serif" font-size="12.5" fill="#404040" stroke="#404040" stroke-width="0.05" textLength="46.5" lengthAdjust="spacingAndGlyphs">Charged</text>
<text x="117.4" y="9.9" font-family="Liberation Serif, serif" font-size="12.5" fill="#404040" stroke="#404040" stroke-width="0.05" textLength="28.5" lengthAdjust="spacingAndGlyphs">state</text>
<text x="150.2" y="9.9" font-family="Liberation Serif, serif" font-size="12.5" fill="#404040" stroke="#404040" stroke-width="0.05" textLength="39.8" lengthAdjust="spacingAndGlyphs">oxygen</text>
<text x="194.2" y="9.9" font-family="Liberation Serif, serif" font-size="12.5" fill="#404040" stroke="#404040" stroke-width="0.05" textLength="50" lengthAdjust="spacingAndGlyphs">chemical</text>
<text x="248.2" y="9.9" font-family="Liberation Serif, serif" font-size="12.5" fill="#404040" stroke="#404040" stroke-width="0.05" textLength="73" lengthAdjust="spacingAndGlyphs">potential/eV</text>
<text transform="translate(9.8,167.6) rotate(-90)" font-family="Liberation Serif, serif" font-size="11.5" fill="#444" textLength="61.6" lengthAdjust="spacingAndGlyphs">Voltage/V</text>
<line x1="41" y1="56.2" x2="346.5" y2="56.2" stroke="#e3232b" stroke-width="2.1"/>
<polyline points="45.6,52.6 40.3,56.2 45.6,59.8" fill="none" stroke="#e3232b" stroke-width="2.3" stroke-linejoin="miter"/>
<polyline points="341.4,52.6 346.7,56.2 341.4,59.8" fill="none" stroke="#e3232b" stroke-width="2.3" stroke-linejoin="miter"/>
<text x="47.1" y="49.8" font-family="Liberation Sans, Arial, sans-serif" font-size="9.5" fill="#e3232b" stroke="#e3232b" stroke-width="0.15" textLength="37.6" lengthAdjust="spacingAndGlyphs">More safe</text>
<text x="280.8" y="49.7" font-family="Liberation Sans, Arial, sans-serif" font-size="9.5" fill="#e3232b" stroke="#e3232b" stroke-width="0.15" textLength="35.3" lengthAdjust="spacingAndGlyphs">Less safe</text>
<circle cx="47.7" cy="249" r="3.0" fill="#181b44" stroke="#090b20" stroke-width="0.9"/>
<text x="55.4" y="251.6" font-family="Liberation Sans, Arial, sans-serif" font-size="10" fill="#1e1e1e" stroke="#1e1e1e" stroke-width="0.18" textLength="24" lengthAdjust="spacingAndGlyphs">oxides</text>
<circle cx="95.9" cy="249" r="3.0" fill="#f0e23a" stroke="#3d3812" stroke-width="0.9"/>
<text x="102.7" y="251.6" font-family="Liberation Sans, Arial, sans-serif" font-size="10" fill="#1e1e1e" stroke="#1e1e1e" stroke-width="0.18" textLength="43.7" lengthAdjust="spacingAndGlyphs">phosphates</text>
<circle cx="165.9" cy="249" r="3.0" fill="#d9232b" stroke="#4a0b0b" stroke-width="0.9"/>
<text x="173.6" y="251.6" font-family="Liberation Sans, Arial, sans-serif" font-size="10" fill="#1e1e1e" stroke="#1e1e1e" stroke-width="0.18" textLength="28.4" lengthAdjust="spacingAndGlyphs">borates</text>
<circle cx="219.3" cy="249" r="3.0" fill="#3c9a35" stroke="#123a12" stroke-width="0.9"/>
<text x="224.4" y="251.6" font-family="Liberation Sans, Arial, sans-serif" font-size="10" fill="#1e1e1e" stroke="#1e1e1e" stroke-width="0.18" textLength="30" lengthAdjust="spacingAndGlyphs">silicates</text>
<circle cx="272.3" cy="249" r="3.0" fill="#62c6da" stroke="#234552" stroke-width="0.9"/>
<text x="279.4" y="251.6" font-family="Liberation Sans, Arial, sans-serif" font-size="10" fill="#1e1e1e" stroke="#1e1e1e" stroke-width="0.18" textLength="29.2" lengthAdjust="spacingAndGlyphs">sulfates</text>
</svg></body></html>
